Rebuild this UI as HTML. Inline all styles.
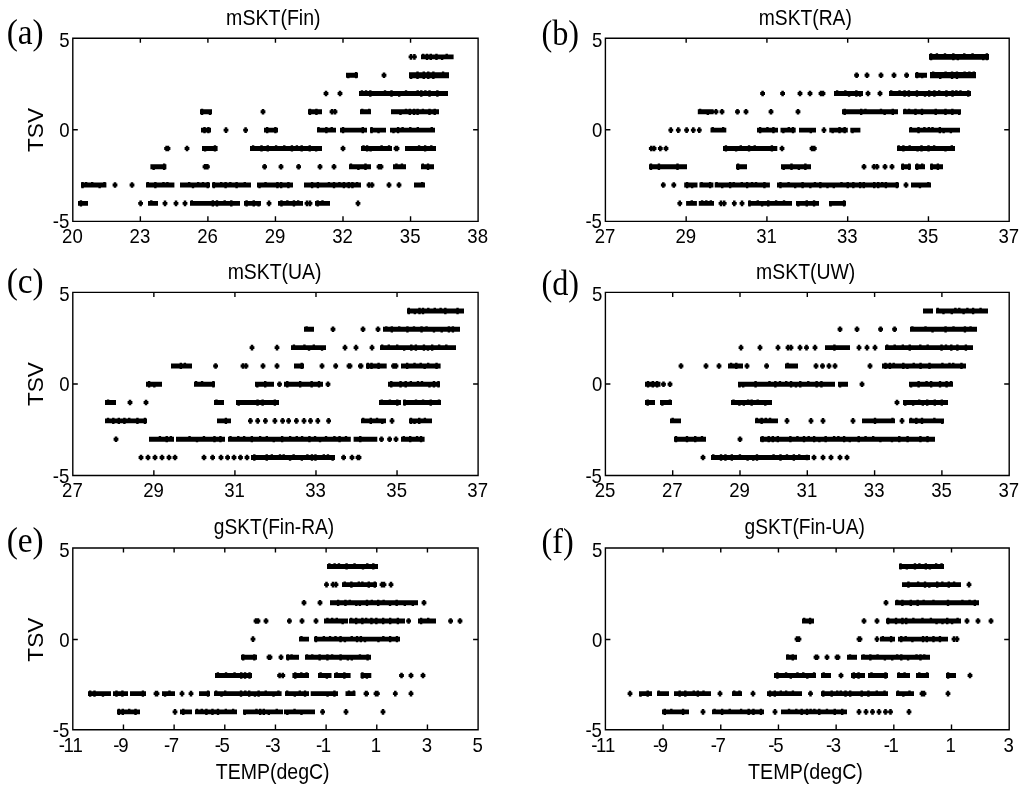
<!DOCTYPE html>
<html><head><meta charset="utf-8"><title>TSV vs skin temperature</title>
<style>
html,body{margin:0;padding:0;background:#fff;}
body{width:1024px;height:793px;overflow:hidden;}
svg{display:block;}
.tk{font-family:"Liberation Sans",Arial,sans-serif;font-size:20px;fill:#000;}
.tt,.tt2{font-family:"Liberation Sans",Arial,sans-serif;font-size:22px;fill:#000;}
.pl{font-family:"Liberation Serif","Times New Roman",serif;font-size:36px;fill:#000;}
</style></head><body>
<svg width="1024" height="793" viewBox="0 0 1024 793">
<rect width="1024" height="793" fill="#fff"/>
<path d="M409.75 54.06h2.50v1.35h1.15v2.90h-1.15v1.35h-2.50v-1.35h-1.15v-2.90h1.15zM413.15 54.06h2.50v1.35h1.15v2.90h-1.15v1.35h-2.50v-1.35h-1.15v-2.90h1.15zM421.00 54.41h32.60v4.90h-32.60zM421.95 53.71h2.4v1h-2.4zM425.81 53.71h2.4v1h-2.4zM425.81 59.02h2.4v1h-2.4zM429.60 53.71h2.4v1h-2.4zM429.60 59.02h2.4v1h-2.4zM435.27 53.71h2.4v1h-2.4zM435.27 59.02h2.4v1h-2.4zM440.89 59.02h2.4v1h-2.4zM445.51 53.71h2.4v1h-2.4zM346.00 72.73h12.00v4.90h-12.00zM347.09 77.33h2.4v1h-2.4zM354.89 72.03h2.4v1h-2.4zM354.89 77.33h2.4v1h-2.4zM382.75 72.38h2.50v1.35h1.15v2.90h-1.15v1.35h-2.50v-1.35h-1.15v-2.90h1.15zM409.00 72.18h40.00v6.00h-40.00zM409.92 77.88h2.4v1h-2.4zM416.32 71.48h2.4v1h-2.4zM416.32 77.88h2.4v1h-2.4zM422.56 71.48h2.4v1h-2.4zM422.56 77.88h2.4v1h-2.4zM427.09 71.48h2.4v1h-2.4zM427.09 77.88h2.4v1h-2.4zM432.16 71.48h2.4v1h-2.4zM432.16 77.88h2.4v1h-2.4zM441.88 71.48h2.4v1h-2.4zM324.75 90.70h2.50v1.35h1.15v2.90h-1.15v1.35h-2.50v-1.35h-1.15v-2.90h1.15zM338.75 90.70h2.50v1.35h1.15v2.90h-1.15v1.35h-2.50v-1.35h-1.15v-2.90h1.15zM359.00 91.05h89.00v4.90h-89.00zM360.76 90.34h2.4v1h-2.4zM364.85 90.34h2.4v1h-2.4zM369.11 90.34h2.4v1h-2.4zM369.11 95.65h2.4v1h-2.4zM383.83 90.34h2.4v1h-2.4zM390.30 90.34h2.4v1h-2.4zM390.30 95.65h2.4v1h-2.4zM398.00 95.65h2.4v1h-2.4zM404.82 90.34h2.4v1h-2.4zM416.48 90.34h2.4v1h-2.4zM420.09 90.34h2.4v1h-2.4zM420.09 95.65h2.4v1h-2.4zM424.18 90.34h2.4v1h-2.4zM428.32 90.34h2.4v1h-2.4zM428.32 95.65h2.4v1h-2.4zM436.18 90.34h2.4v1h-2.4zM436.18 95.65h2.4v1h-2.4zM200.00 109.36h12.00v4.90h-12.00zM200.86 108.66h2.4v1h-2.4zM200.86 113.96h2.4v1h-2.4zM208.78 113.96h2.4v1h-2.4zM261.75 109.01h2.50v1.35h1.15v2.90h-1.15v1.35h-2.50v-1.35h-1.15v-2.90h1.15zM308.00 109.36h14.00v4.90h-14.00zM308.76 108.66h2.4v1h-2.4zM308.76 113.96h2.4v1h-2.4zM315.21 108.66h2.4v1h-2.4zM315.21 113.96h2.4v1h-2.4zM330.75 109.01h2.50v1.35h1.15v2.90h-1.15v1.35h-2.50v-1.35h-1.15v-2.90h1.15zM333.75 109.01h2.50v1.35h1.15v2.90h-1.15v1.35h-2.50v-1.35h-1.15v-2.90h1.15zM360.00 109.36h11.00v4.90h-11.00zM361.04 108.66h2.4v1h-2.4zM367.99 108.66h2.4v1h-2.4zM391.00 109.36h48.00v4.90h-48.00zM399.28 113.96h2.4v1h-2.4zM404.78 108.66h2.4v1h-2.4zM408.59 108.66h2.4v1h-2.4zM408.59 113.96h2.4v1h-2.4zM412.90 108.66h2.4v1h-2.4zM412.90 113.96h2.4v1h-2.4zM416.40 108.66h2.4v1h-2.4zM416.40 113.96h2.4v1h-2.4zM421.72 108.66h2.4v1h-2.4zM428.29 108.66h2.4v1h-2.4zM428.29 113.96h2.4v1h-2.4zM433.52 108.66h2.4v1h-2.4zM433.52 113.96h2.4v1h-2.4zM201.00 127.67h10.00v4.90h-10.00zM203.29 126.97h2.4v1h-2.4zM203.29 132.27h2.4v1h-2.4zM207.22 126.97h2.4v1h-2.4zM207.22 132.27h2.4v1h-2.4zM224.75 127.33h2.50v1.35h1.15v2.90h-1.15v1.35h-2.50v-1.35h-1.15v-2.90h1.15zM244.35 127.33h2.50v1.35h1.15v2.90h-1.15v1.35h-2.50v-1.35h-1.15v-2.90h1.15zM264.00 127.67h14.00v4.90h-14.00zM265.96 126.97h2.4v1h-2.4zM265.96 132.27h2.4v1h-2.4zM274.21 126.97h2.4v1h-2.4zM274.21 132.27h2.4v1h-2.4zM317.00 127.67h19.00v4.90h-19.00zM317.35 126.97h2.4v1h-2.4zM325.17 126.97h2.4v1h-2.4zM325.17 132.27h2.4v1h-2.4zM330.50 126.97h2.4v1h-2.4zM340.00 127.67h27.00v4.90h-27.00zM341.86 126.97h2.4v1h-2.4zM341.86 132.27h2.4v1h-2.4zM361.58 126.97h2.4v1h-2.4zM361.58 132.27h2.4v1h-2.4zM370.00 127.67h16.00v4.90h-16.00zM370.36 126.97h2.4v1h-2.4zM370.36 132.27h2.4v1h-2.4zM377.32 132.27h2.4v1h-2.4zM390.00 127.67h45.00v4.90h-45.00zM392.28 132.27h2.4v1h-2.4zM396.88 126.97h2.4v1h-2.4zM396.88 132.27h2.4v1h-2.4zM401.40 126.97h2.4v1h-2.4zM409.10 126.97h2.4v1h-2.4zM416.60 126.97h2.4v1h-2.4zM430.54 126.97h2.4v1h-2.4zM165.35 145.64h2.50v1.35h1.15v2.90h-1.15v1.35h-2.50v-1.35h-1.15v-2.90h1.15zM166.75 145.64h2.50v1.35h1.15v2.90h-1.15v1.35h-2.50v-1.35h-1.15v-2.90h1.15zM185.75 145.64h2.50v1.35h1.15v2.90h-1.15v1.35h-2.50v-1.35h-1.15v-2.90h1.15zM202.00 145.99h15.60v4.90h-15.60zM203.90 150.59h2.4v1h-2.4zM213.76 145.29h2.4v1h-2.4zM213.76 150.59h2.4v1h-2.4zM250.00 145.99h72.00v4.90h-72.00zM251.91 145.29h2.4v1h-2.4zM260.31 145.29h2.4v1h-2.4zM260.31 150.59h2.4v1h-2.4zM266.56 145.29h2.4v1h-2.4zM266.56 150.59h2.4v1h-2.4zM274.91 145.29h2.4v1h-2.4zM283.08 145.29h2.4v1h-2.4zM290.71 145.29h2.4v1h-2.4zM290.71 150.59h2.4v1h-2.4zM295.68 145.29h2.4v1h-2.4zM300.47 145.29h2.4v1h-2.4zM300.47 150.59h2.4v1h-2.4zM308.52 145.29h2.4v1h-2.4zM308.52 150.59h2.4v1h-2.4zM314.94 150.59h2.4v1h-2.4zM341.75 145.64h2.50v1.35h1.15v2.90h-1.15v1.35h-2.50v-1.35h-1.15v-2.90h1.15zM361.00 145.99h31.00v4.90h-31.00zM362.30 145.29h2.4v1h-2.4zM365.90 145.29h2.4v1h-2.4zM365.90 150.59h2.4v1h-2.4zM369.42 150.59h2.4v1h-2.4zM380.41 145.29h2.4v1h-2.4zM387.84 145.29h2.4v1h-2.4zM394.75 145.64h2.50v1.35h1.15v2.90h-1.15v1.35h-2.50v-1.35h-1.15v-2.90h1.15zM395.75 145.64h2.50v1.35h1.15v2.90h-1.15v1.35h-2.50v-1.35h-1.15v-2.90h1.15zM405.00 145.99h31.00v4.90h-31.00zM417.88 145.29h2.4v1h-2.4zM423.94 145.29h2.4v1h-2.4zM423.94 150.59h2.4v1h-2.4zM430.11 145.29h2.4v1h-2.4zM150.40 164.31h16.00v4.90h-16.00zM152.45 168.90h2.4v1h-2.4zM162.94 163.61h2.4v1h-2.4zM162.94 168.90h2.4v1h-2.4zM203.75 163.95h2.50v1.35h1.15v2.90h-1.15v1.35h-2.50v-1.35h-1.15v-2.90h1.15zM206.15 163.95h2.50v1.35h1.15v2.90h-1.15v1.35h-2.50v-1.35h-1.15v-2.90h1.15zM263.35 163.95h2.50v1.35h1.15v2.90h-1.15v1.35h-2.50v-1.35h-1.15v-2.90h1.15zM279.75 163.95h2.50v1.35h1.15v2.90h-1.15v1.35h-2.50v-1.35h-1.15v-2.90h1.15zM297.35 163.95h2.50v1.35h1.15v2.90h-1.15v1.35h-2.50v-1.35h-1.15v-2.90h1.15zM318.75 163.95h2.50v1.35h1.15v2.90h-1.15v1.35h-2.50v-1.35h-1.15v-2.90h1.15zM332.75 163.95h2.50v1.35h1.15v2.90h-1.15v1.35h-2.50v-1.35h-1.15v-2.90h1.15zM349.00 164.31h22.00v4.90h-22.00zM349.78 163.61h2.4v1h-2.4zM357.20 168.90h2.4v1h-2.4zM364.28 163.61h2.4v1h-2.4zM364.28 168.90h2.4v1h-2.4zM377.75 163.95h2.50v1.35h1.15v2.90h-1.15v1.35h-2.50v-1.35h-1.15v-2.90h1.15zM379.75 163.95h2.50v1.35h1.15v2.90h-1.15v1.35h-2.50v-1.35h-1.15v-2.90h1.15zM393.00 164.31h13.00v4.90h-13.00zM395.24 163.61h2.4v1h-2.4zM400.73 163.61h2.4v1h-2.4zM421.00 164.31h13.00v4.90h-13.00zM421.62 163.61h2.4v1h-2.4zM426.82 163.61h2.4v1h-2.4zM426.82 168.90h2.4v1h-2.4zM81.00 182.62h25.40v4.90h-25.40zM81.34 181.92h2.4v1h-2.4zM81.34 187.22h2.4v1h-2.4zM84.93 181.92h2.4v1h-2.4zM90.99 181.92h2.4v1h-2.4zM98.43 187.22h2.4v1h-2.4zM103.26 181.92h2.4v1h-2.4zM113.75 182.27h2.50v1.35h1.15v2.90h-1.15v1.35h-2.50v-1.35h-1.15v-2.90h1.15zM130.75 182.27h2.50v1.35h1.15v2.90h-1.15v1.35h-2.50v-1.35h-1.15v-2.90h1.15zM146.00 182.62h28.40v4.90h-28.40zM146.56 181.92h2.4v1h-2.4zM154.15 181.92h2.4v1h-2.4zM154.15 187.22h2.4v1h-2.4zM162.25 181.92h2.4v1h-2.4zM166.20 181.92h2.4v1h-2.4zM180.00 182.62h30.00v4.90h-30.00zM187.95 181.92h2.4v1h-2.4zM191.79 187.22h2.4v1h-2.4zM196.98 181.92h2.4v1h-2.4zM201.82 181.92h2.4v1h-2.4zM206.51 181.92h2.4v1h-2.4zM206.51 187.22h2.4v1h-2.4zM212.00 182.62h39.00v4.90h-39.00zM212.70 181.92h2.4v1h-2.4zM212.70 187.22h2.4v1h-2.4zM220.00 181.92h2.4v1h-2.4zM224.39 181.92h2.4v1h-2.4zM224.39 187.22h2.4v1h-2.4zM229.14 181.92h2.4v1h-2.4zM235.40 181.92h2.4v1h-2.4zM235.40 187.22h2.4v1h-2.4zM243.57 181.92h2.4v1h-2.4zM257.00 182.62h36.00v4.90h-36.00zM258.29 187.22h2.4v1h-2.4zM264.32 181.92h2.4v1h-2.4zM276.22 181.92h2.4v1h-2.4zM276.22 187.22h2.4v1h-2.4zM279.99 181.92h2.4v1h-2.4zM279.99 187.22h2.4v1h-2.4zM287.19 181.92h2.4v1h-2.4zM287.19 187.22h2.4v1h-2.4zM304.00 182.62h57.00v4.90h-57.00zM310.89 181.92h2.4v1h-2.4zM310.89 187.22h2.4v1h-2.4zM316.69 181.92h2.4v1h-2.4zM316.69 187.22h2.4v1h-2.4zM327.74 181.92h2.4v1h-2.4zM332.79 181.92h2.4v1h-2.4zM332.79 187.22h2.4v1h-2.4zM338.20 181.92h2.4v1h-2.4zM342.70 181.92h2.4v1h-2.4zM342.70 187.22h2.4v1h-2.4zM347.52 181.92h2.4v1h-2.4zM347.52 187.22h2.4v1h-2.4zM351.23 181.92h2.4v1h-2.4zM351.23 187.22h2.4v1h-2.4zM355.90 181.92h2.4v1h-2.4zM367.75 182.27h2.50v1.35h1.15v2.90h-1.15v1.35h-2.50v-1.35h-1.15v-2.90h1.15zM370.75 182.27h2.50v1.35h1.15v2.90h-1.15v1.35h-2.50v-1.35h-1.15v-2.90h1.15zM387.75 182.27h2.50v1.35h1.15v2.90h-1.15v1.35h-2.50v-1.35h-1.15v-2.90h1.15zM397.75 182.27h2.50v1.35h1.15v2.90h-1.15v1.35h-2.50v-1.35h-1.15v-2.90h1.15zM414.00 182.62h11.00v4.90h-11.00zM421.06 181.92h2.4v1h-2.4zM78.00 200.94h10.00v4.90h-10.00zM79.75 200.24h2.4v1h-2.4zM79.75 205.53h2.4v1h-2.4zM139.35 200.59h2.50v1.35h1.15v2.90h-1.15v1.35h-2.50v-1.35h-1.15v-2.90h1.15zM148.00 200.94h10.00v4.90h-10.00zM150.08 200.24h2.4v1h-2.4zM163.75 200.59h2.50v1.35h1.15v2.90h-1.15v1.35h-2.50v-1.35h-1.15v-2.90h1.15zM174.75 200.59h2.50v1.35h1.15v2.90h-1.15v1.35h-2.50v-1.35h-1.15v-2.90h1.15zM183.75 200.59h2.50v1.35h1.15v2.90h-1.15v1.35h-2.50v-1.35h-1.15v-2.90h1.15zM190.00 200.94h50.00v4.90h-50.00zM190.58 200.24h2.4v1h-2.4zM211.64 200.24h2.4v1h-2.4zM211.64 205.53h2.4v1h-2.4zM215.81 200.24h2.4v1h-2.4zM215.81 205.53h2.4v1h-2.4zM223.48 200.24h2.4v1h-2.4zM230.12 200.24h2.4v1h-2.4zM230.12 205.53h2.4v1h-2.4zM244.00 200.94h17.00v4.90h-17.00zM245.37 200.24h2.4v1h-2.4zM245.37 205.53h2.4v1h-2.4zM252.55 200.24h2.4v1h-2.4zM252.55 205.53h2.4v1h-2.4zM257.38 205.53h2.4v1h-2.4zM267.75 200.59h2.50v1.35h1.15v2.90h-1.15v1.35h-2.50v-1.35h-1.15v-2.90h1.15zM278.00 200.94h25.00v4.90h-25.00zM280.25 200.24h2.4v1h-2.4zM280.25 205.53h2.4v1h-2.4zM286.15 200.24h2.4v1h-2.4zM292.73 200.24h2.4v1h-2.4zM292.73 205.53h2.4v1h-2.4zM296.97 200.24h2.4v1h-2.4zM305.75 200.59h2.50v1.35h1.15v2.90h-1.15v1.35h-2.50v-1.35h-1.15v-2.90h1.15zM308.75 200.59h2.50v1.35h1.15v2.90h-1.15v1.35h-2.50v-1.35h-1.15v-2.90h1.15zM315.00 200.94h15.00v4.90h-15.00zM316.44 200.24h2.4v1h-2.4zM316.44 205.53h2.4v1h-2.4zM321.28 200.24h2.4v1h-2.4zM356.75 200.59h2.50v1.35h1.15v2.90h-1.15v1.35h-2.50v-1.35h-1.15v-2.90h1.15zM929.00 54.06h60.00v5.60h-60.00zM929.88 53.36h2.4v1h-2.4zM929.88 59.36h2.4v1h-2.4zM935.71 53.36h2.4v1h-2.4zM943.80 53.36h2.4v1h-2.4zM952.14 53.36h2.4v1h-2.4zM952.14 59.36h2.4v1h-2.4zM956.69 59.36h2.4v1h-2.4zM963.09 53.36h2.4v1h-2.4zM971.36 53.36h2.4v1h-2.4zM982.06 59.36h2.4v1h-2.4zM985.68 53.36h2.4v1h-2.4zM985.68 59.36h2.4v1h-2.4zM855.35 72.38h2.50v1.35h1.15v2.90h-1.15v1.35h-2.50v-1.35h-1.15v-2.90h1.15zM865.75 72.38h2.50v1.35h1.15v2.90h-1.15v1.35h-2.50v-1.35h-1.15v-2.90h1.15zM879.75 72.38h2.50v1.35h1.15v2.90h-1.15v1.35h-2.50v-1.35h-1.15v-2.90h1.15zM892.75 72.38h2.50v1.35h1.15v2.90h-1.15v1.35h-2.50v-1.35h-1.15v-2.90h1.15zM905.35 72.38h2.50v1.35h1.15v2.90h-1.15v1.35h-2.50v-1.35h-1.15v-2.90h1.15zM915.00 72.73h12.00v4.90h-12.00zM915.90 72.03h2.4v1h-2.4zM915.90 77.33h2.4v1h-2.4zM920.98 77.33h2.4v1h-2.4zM930.00 72.08h46.00v6.20h-46.00zM931.98 71.38h2.4v1h-2.4zM939.04 77.98h2.4v1h-2.4zM944.40 71.38h2.4v1h-2.4zM950.85 71.38h2.4v1h-2.4zM950.85 77.98h2.4v1h-2.4zM955.73 71.38h2.4v1h-2.4zM955.73 77.98h2.4v1h-2.4zM963.40 71.38h2.4v1h-2.4zM968.15 71.38h2.4v1h-2.4zM972.60 71.38h2.4v1h-2.4zM761.35 90.70h2.50v1.35h1.15v2.90h-1.15v1.35h-2.50v-1.35h-1.15v-2.90h1.15zM781.35 90.70h2.50v1.35h1.15v2.90h-1.15v1.35h-2.50v-1.35h-1.15v-2.90h1.15zM798.75 90.70h2.50v1.35h1.15v2.90h-1.15v1.35h-2.50v-1.35h-1.15v-2.90h1.15zM808.75 90.70h2.50v1.35h1.15v2.90h-1.15v1.35h-2.50v-1.35h-1.15v-2.90h1.15zM819.75 90.70h2.50v1.35h1.15v2.90h-1.15v1.35h-2.50v-1.35h-1.15v-2.90h1.15zM821.75 90.70h2.50v1.35h1.15v2.90h-1.15v1.35h-2.50v-1.35h-1.15v-2.90h1.15zM834.00 91.05h29.00v4.90h-29.00zM835.92 90.34h2.4v1h-2.4zM844.13 90.34h2.4v1h-2.4zM847.87 95.65h2.4v1h-2.4zM855.14 90.34h2.4v1h-2.4zM855.14 95.65h2.4v1h-2.4zM858.88 95.65h2.4v1h-2.4zM866.75 90.70h2.50v1.35h1.15v2.90h-1.15v1.35h-2.50v-1.35h-1.15v-2.90h1.15zM878.75 90.70h2.50v1.35h1.15v2.90h-1.15v1.35h-2.50v-1.35h-1.15v-2.90h1.15zM889.00 91.05h82.00v4.90h-82.00zM889.99 90.34h2.4v1h-2.4zM898.37 90.34h2.4v1h-2.4zM903.37 90.34h2.4v1h-2.4zM903.37 95.65h2.4v1h-2.4zM907.71 90.34h2.4v1h-2.4zM907.71 95.65h2.4v1h-2.4zM915.74 90.34h2.4v1h-2.4zM915.74 95.65h2.4v1h-2.4zM923.77 95.65h2.4v1h-2.4zM927.97 90.34h2.4v1h-2.4zM927.97 95.65h2.4v1h-2.4zM933.18 90.34h2.4v1h-2.4zM933.18 95.65h2.4v1h-2.4zM937.97 90.34h2.4v1h-2.4zM945.22 90.34h2.4v1h-2.4zM945.22 95.65h2.4v1h-2.4zM951.34 90.34h2.4v1h-2.4zM951.34 95.65h2.4v1h-2.4zM955.15 90.34h2.4v1h-2.4zM959.28 90.34h2.4v1h-2.4zM967.09 90.34h2.4v1h-2.4zM967.09 95.65h2.4v1h-2.4zM697.80 109.36h15.80v4.90h-15.80zM698.90 108.66h2.4v1h-2.4zM706.64 113.96h2.4v1h-2.4zM714.75 109.01h2.50v1.35h1.15v2.90h-1.15v1.35h-2.50v-1.35h-1.15v-2.90h1.15zM720.75 109.01h2.50v1.35h1.15v2.90h-1.15v1.35h-2.50v-1.35h-1.15v-2.90h1.15zM736.25 109.01h2.50v1.35h1.15v2.90h-1.15v1.35h-2.50v-1.35h-1.15v-2.90h1.15zM744.75 109.01h2.50v1.35h1.15v2.90h-1.15v1.35h-2.50v-1.35h-1.15v-2.90h1.15zM769.75 109.01h2.50v1.35h1.15v2.90h-1.15v1.35h-2.50v-1.35h-1.15v-2.90h1.15zM796.75 109.01h2.50v1.35h1.15v2.90h-1.15v1.35h-2.50v-1.35h-1.15v-2.90h1.15zM842.00 109.36h56.00v4.90h-56.00zM843.47 108.66h2.4v1h-2.4zM843.47 113.96h2.4v1h-2.4zM859.97 108.66h2.4v1h-2.4zM859.97 113.96h2.4v1h-2.4zM864.24 108.66h2.4v1h-2.4zM879.77 108.66h2.4v1h-2.4zM883.47 113.96h2.4v1h-2.4zM891.57 108.66h2.4v1h-2.4zM891.57 113.96h2.4v1h-2.4zM903.00 109.36h58.00v4.90h-58.00zM903.80 108.66h2.4v1h-2.4zM907.86 108.66h2.4v1h-2.4zM914.28 108.66h2.4v1h-2.4zM914.28 113.96h2.4v1h-2.4zM920.78 108.66h2.4v1h-2.4zM920.78 113.96h2.4v1h-2.4zM934.51 108.66h2.4v1h-2.4zM934.51 113.96h2.4v1h-2.4zM944.28 108.66h2.4v1h-2.4zM944.28 113.96h2.4v1h-2.4zM951.15 108.66h2.4v1h-2.4zM951.15 113.96h2.4v1h-2.4zM957.99 113.96h2.4v1h-2.4zM669.55 127.33h2.50v1.35h1.15v2.90h-1.15v1.35h-2.50v-1.35h-1.15v-2.90h1.15zM677.05 127.33h2.50v1.35h1.15v2.90h-1.15v1.35h-2.50v-1.35h-1.15v-2.90h1.15zM685.35 127.33h2.50v1.35h1.15v2.90h-1.15v1.35h-2.50v-1.35h-1.15v-2.90h1.15zM692.05 127.33h2.50v1.35h1.15v2.90h-1.15v1.35h-2.50v-1.35h-1.15v-2.90h1.15zM698.05 127.33h2.50v1.35h1.15v2.90h-1.15v1.35h-2.50v-1.35h-1.15v-2.90h1.15zM710.50 127.67h15.80v4.90h-15.80zM711.48 126.97h2.4v1h-2.4zM721.99 126.97h2.4v1h-2.4zM757.00 127.67h21.00v4.90h-21.00zM758.94 126.97h2.4v1h-2.4zM758.94 132.27h2.4v1h-2.4zM766.24 126.97h2.4v1h-2.4zM772.22 126.97h2.4v1h-2.4zM772.22 132.27h2.4v1h-2.4zM780.50 127.67h15.20v4.90h-15.20zM782.13 132.27h2.4v1h-2.4zM787.60 126.97h2.4v1h-2.4zM791.81 126.97h2.4v1h-2.4zM791.81 132.27h2.4v1h-2.4zM799.00 127.67h17.00v4.90h-17.00zM809.58 132.27h2.4v1h-2.4zM822.70 127.33h2.50v1.35h1.15v2.90h-1.15v1.35h-2.50v-1.35h-1.15v-2.90h1.15zM829.30 127.67h18.50v4.90h-18.50zM831.47 132.27h2.4v1h-2.4zM838.29 126.97h2.4v1h-2.4zM838.29 132.27h2.4v1h-2.4zM843.45 126.97h2.4v1h-2.4zM843.45 132.27h2.4v1h-2.4zM850.30 127.67h10.10v4.90h-10.10zM851.30 132.27h2.4v1h-2.4zM909.00 127.67h51.00v4.90h-51.00zM909.71 126.97h2.4v1h-2.4zM917.32 126.97h2.4v1h-2.4zM917.32 132.27h2.4v1h-2.4zM923.19 126.97h2.4v1h-2.4zM927.66 126.97h2.4v1h-2.4zM931.31 126.97h2.4v1h-2.4zM938.64 126.97h2.4v1h-2.4zM938.64 132.27h2.4v1h-2.4zM942.45 132.27h2.4v1h-2.4zM949.69 132.27h2.4v1h-2.4zM650.05 145.64h2.50v1.35h1.15v2.90h-1.15v1.35h-2.50v-1.35h-1.15v-2.90h1.15zM652.85 145.64h2.50v1.35h1.15v2.90h-1.15v1.35h-2.50v-1.35h-1.15v-2.90h1.15zM659.05 145.64h2.50v1.35h1.15v2.90h-1.15v1.35h-2.50v-1.35h-1.15v-2.90h1.15zM664.75 145.64h2.50v1.35h1.15v2.90h-1.15v1.35h-2.50v-1.35h-1.15v-2.90h1.15zM723.00 145.99h54.30v4.90h-54.30zM724.73 145.29h2.4v1h-2.4zM724.73 150.59h2.4v1h-2.4zM734.92 150.59h2.4v1h-2.4zM739.59 145.29h2.4v1h-2.4zM747.86 145.29h2.4v1h-2.4zM747.86 150.59h2.4v1h-2.4zM753.51 145.29h2.4v1h-2.4zM770.68 145.29h2.4v1h-2.4zM770.68 150.59h2.4v1h-2.4zM780.75 145.64h2.50v1.35h1.15v2.90h-1.15v1.35h-2.50v-1.35h-1.15v-2.90h1.15zM810.75 145.64h2.50v1.35h1.15v2.90h-1.15v1.35h-2.50v-1.35h-1.15v-2.90h1.15zM813.05 145.64h2.50v1.35h1.15v2.90h-1.15v1.35h-2.50v-1.35h-1.15v-2.90h1.15zM897.00 145.99h58.00v4.90h-58.00zM897.46 145.29h2.4v1h-2.4zM902.19 145.29h2.4v1h-2.4zM902.19 150.59h2.4v1h-2.4zM908.46 145.29h2.4v1h-2.4zM916.37 150.59h2.4v1h-2.4zM920.30 145.29h2.4v1h-2.4zM920.30 150.59h2.4v1h-2.4zM927.34 145.29h2.4v1h-2.4zM927.34 150.59h2.4v1h-2.4zM932.93 145.29h2.4v1h-2.4zM944.27 150.59h2.4v1h-2.4zM950.61 145.29h2.4v1h-2.4zM649.00 164.31h38.00v4.90h-38.00zM649.79 163.61h2.4v1h-2.4zM649.79 168.90h2.4v1h-2.4zM657.72 163.61h2.4v1h-2.4zM657.72 168.90h2.4v1h-2.4zM676.31 163.61h2.4v1h-2.4zM676.31 168.90h2.4v1h-2.4zM736.00 164.31h11.00v4.90h-11.00zM736.89 163.61h2.4v1h-2.4zM736.89 168.90h2.4v1h-2.4zM781.00 164.31h30.00v4.90h-30.00zM782.47 168.90h2.4v1h-2.4zM790.30 163.61h2.4v1h-2.4zM790.30 168.90h2.4v1h-2.4zM797.69 168.90h2.4v1h-2.4zM804.17 163.61h2.4v1h-2.4zM804.17 168.90h2.4v1h-2.4zM862.75 163.95h2.50v1.35h1.15v2.90h-1.15v1.35h-2.50v-1.35h-1.15v-2.90h1.15zM872.75 163.95h2.50v1.35h1.15v2.90h-1.15v1.35h-2.50v-1.35h-1.15v-2.90h1.15zM875.75 163.95h2.50v1.35h1.15v2.90h-1.15v1.35h-2.50v-1.35h-1.15v-2.90h1.15zM883.75 163.95h2.50v1.35h1.15v2.90h-1.15v1.35h-2.50v-1.35h-1.15v-2.90h1.15zM890.75 163.95h2.50v1.35h1.15v2.90h-1.15v1.35h-2.50v-1.35h-1.15v-2.90h1.15zM901.00 164.31h10.00v4.90h-10.00zM901.58 163.61h2.4v1h-2.4zM901.58 168.90h2.4v1h-2.4zM908.08 163.61h2.4v1h-2.4zM908.08 168.90h2.4v1h-2.4zM915.00 164.31h10.00v4.90h-10.00zM915.95 163.61h2.4v1h-2.4zM915.95 168.90h2.4v1h-2.4zM921.02 163.61h2.4v1h-2.4zM930.00 164.31h13.00v4.90h-13.00zM930.43 163.61h2.4v1h-2.4zM930.43 168.90h2.4v1h-2.4zM936.68 163.61h2.4v1h-2.4zM936.68 168.90h2.4v1h-2.4zM662.05 182.27h2.50v1.35h1.15v2.90h-1.15v1.35h-2.50v-1.35h-1.15v-2.90h1.15zM672.55 182.27h2.50v1.35h1.15v2.90h-1.15v1.35h-2.50v-1.35h-1.15v-2.90h1.15zM684.20 182.62h13.30v4.90h-13.30zM685.89 181.92h2.4v1h-2.4zM685.89 187.22h2.4v1h-2.4zM690.93 187.22h2.4v1h-2.4zM699.40 182.62h14.00v4.90h-14.00zM700.41 181.92h2.4v1h-2.4zM708.90 181.92h2.4v1h-2.4zM708.90 187.22h2.4v1h-2.4zM714.70 182.62h55.20v4.90h-55.20zM715.41 181.92h2.4v1h-2.4zM721.03 187.22h2.4v1h-2.4zM728.94 181.92h2.4v1h-2.4zM728.94 187.22h2.4v1h-2.4zM732.51 181.92h2.4v1h-2.4zM740.56 181.92h2.4v1h-2.4zM745.92 181.92h2.4v1h-2.4zM745.92 187.22h2.4v1h-2.4zM750.83 181.92h2.4v1h-2.4zM754.88 181.92h2.4v1h-2.4zM763.21 181.92h2.4v1h-2.4zM763.21 187.22h2.4v1h-2.4zM777.00 182.62h122.00v4.90h-122.00zM779.25 181.92h2.4v1h-2.4zM779.25 187.22h2.4v1h-2.4zM787.38 181.92h2.4v1h-2.4zM793.98 187.22h2.4v1h-2.4zM801.41 181.92h2.4v1h-2.4zM801.41 187.22h2.4v1h-2.4zM809.14 187.22h2.4v1h-2.4zM813.74 181.92h2.4v1h-2.4zM819.15 181.92h2.4v1h-2.4zM819.15 187.22h2.4v1h-2.4zM826.28 187.22h2.4v1h-2.4zM832.59 187.22h2.4v1h-2.4zM840.28 181.92h2.4v1h-2.4zM846.53 181.92h2.4v1h-2.4zM846.53 187.22h2.4v1h-2.4zM852.13 181.92h2.4v1h-2.4zM852.13 187.22h2.4v1h-2.4zM858.93 181.92h2.4v1h-2.4zM858.93 187.22h2.4v1h-2.4zM862.54 181.92h2.4v1h-2.4zM862.54 187.22h2.4v1h-2.4zM873.01 181.92h2.4v1h-2.4zM873.01 187.22h2.4v1h-2.4zM877.05 181.92h2.4v1h-2.4zM877.05 187.22h2.4v1h-2.4zM881.00 181.92h2.4v1h-2.4zM884.71 181.92h2.4v1h-2.4zM884.71 187.22h2.4v1h-2.4zM895.65 181.92h2.4v1h-2.4zM895.65 187.22h2.4v1h-2.4zM904.75 182.27h2.50v1.35h1.15v2.90h-1.15v1.35h-2.50v-1.35h-1.15v-2.90h1.15zM911.00 182.62h20.00v4.90h-20.00zM918.73 187.22h2.4v1h-2.4zM927.14 181.92h2.4v1h-2.4zM678.55 200.59h2.50v1.35h1.15v2.90h-1.15v1.35h-2.50v-1.35h-1.15v-2.90h1.15zM686.10 200.94h10.80v4.90h-10.80zM690.56 200.24h2.4v1h-2.4zM698.80 200.94h15.20v4.90h-15.20zM700.89 200.24h2.4v1h-2.4zM705.11 200.24h2.4v1h-2.4zM709.65 200.24h2.4v1h-2.4zM719.75 200.59h2.50v1.35h1.15v2.90h-1.15v1.35h-2.50v-1.35h-1.15v-2.90h1.15zM722.95 200.59h2.50v1.35h1.15v2.90h-1.15v1.35h-2.50v-1.35h-1.15v-2.90h1.15zM733.05 200.59h2.50v1.35h1.15v2.90h-1.15v1.35h-2.50v-1.35h-1.15v-2.90h1.15zM740.75 200.59h2.50v1.35h1.15v2.90h-1.15v1.35h-2.50v-1.35h-1.15v-2.90h1.15zM748.00 200.94h44.00v4.90h-44.00zM748.37 200.24h2.4v1h-2.4zM748.37 205.53h2.4v1h-2.4zM756.56 200.24h2.4v1h-2.4zM760.90 205.53h2.4v1h-2.4zM767.05 200.24h2.4v1h-2.4zM767.05 205.53h2.4v1h-2.4zM774.92 200.24h2.4v1h-2.4zM782.83 200.24h2.4v1h-2.4zM796.00 200.94h23.00v4.90h-23.00zM797.09 205.53h2.4v1h-2.4zM805.54 200.24h2.4v1h-2.4zM805.54 205.53h2.4v1h-2.4zM812.86 200.24h2.4v1h-2.4zM812.86 205.53h2.4v1h-2.4zM829.00 200.94h17.00v4.90h-17.00zM829.40 205.53h2.4v1h-2.4zM842.91 200.24h2.4v1h-2.4zM842.91 205.53h2.4v1h-2.4zM407.00 308.56h57.00v4.90h-57.00zM407.60 307.86h2.4v1h-2.4zM407.60 313.16h2.4v1h-2.4zM413.66 313.16h2.4v1h-2.4zM418.30 307.86h2.4v1h-2.4zM418.30 313.16h2.4v1h-2.4zM421.81 307.86h2.4v1h-2.4zM421.81 313.16h2.4v1h-2.4zM427.10 307.86h2.4v1h-2.4zM433.54 307.86h2.4v1h-2.4zM439.42 307.86h2.4v1h-2.4zM444.14 307.86h2.4v1h-2.4zM444.14 313.16h2.4v1h-2.4zM456.34 307.86h2.4v1h-2.4zM456.34 313.16h2.4v1h-2.4zM304.00 326.87h10.00v4.90h-10.00zM305.42 326.17h2.4v1h-2.4zM331.75 326.52h2.50v1.35h1.15v2.90h-1.15v1.35h-2.50v-1.35h-1.15v-2.90h1.15zM361.75 326.52h2.50v1.35h1.15v2.90h-1.15v1.35h-2.50v-1.35h-1.15v-2.90h1.15zM376.75 326.52h2.50v1.35h1.15v2.90h-1.15v1.35h-2.50v-1.35h-1.15v-2.90h1.15zM383.00 326.87h77.00v4.90h-77.00zM385.11 326.17h2.4v1h-2.4zM390.64 326.17h2.4v1h-2.4zM390.64 331.47h2.4v1h-2.4zM398.03 326.17h2.4v1h-2.4zM406.24 326.17h2.4v1h-2.4zM406.24 331.47h2.4v1h-2.4zM412.78 326.17h2.4v1h-2.4zM420.34 326.17h2.4v1h-2.4zM420.34 331.47h2.4v1h-2.4zM425.34 326.17h2.4v1h-2.4zM432.76 331.47h2.4v1h-2.4zM440.48 331.47h2.4v1h-2.4zM447.69 326.17h2.4v1h-2.4zM447.69 331.47h2.4v1h-2.4zM451.72 326.17h2.4v1h-2.4zM451.72 331.47h2.4v1h-2.4zM250.75 344.83h2.50v1.35h1.15v2.90h-1.15v1.35h-2.50v-1.35h-1.15v-2.90h1.15zM275.75 344.83h2.50v1.35h1.15v2.90h-1.15v1.35h-2.50v-1.35h-1.15v-2.90h1.15zM291.00 345.18h35.00v4.90h-35.00zM292.72 344.48h2.4v1h-2.4zM303.23 344.48h2.4v1h-2.4zM307.82 349.78h2.4v1h-2.4zM312.62 344.48h2.4v1h-2.4zM320.84 349.78h2.4v1h-2.4zM343.75 344.83h2.50v1.35h1.15v2.90h-1.15v1.35h-2.50v-1.35h-1.15v-2.90h1.15zM354.75 344.83h2.50v1.35h1.15v2.90h-1.15v1.35h-2.50v-1.35h-1.15v-2.90h1.15zM370.75 344.83h2.50v1.35h1.15v2.90h-1.15v1.35h-2.50v-1.35h-1.15v-2.90h1.15zM380.00 345.18h76.00v4.90h-76.00zM380.96 344.48h2.4v1h-2.4zM387.61 344.48h2.4v1h-2.4zM396.01 344.48h2.4v1h-2.4zM402.99 349.78h2.4v1h-2.4zM410.12 344.48h2.4v1h-2.4zM410.12 349.78h2.4v1h-2.4zM414.68 344.48h2.4v1h-2.4zM414.68 349.78h2.4v1h-2.4zM422.73 344.48h2.4v1h-2.4zM422.73 349.78h2.4v1h-2.4zM426.76 349.78h2.4v1h-2.4zM430.97 344.48h2.4v1h-2.4zM430.97 349.78h2.4v1h-2.4zM437.94 344.48h2.4v1h-2.4zM445.12 344.48h2.4v1h-2.4zM171.00 363.49h21.00v4.90h-21.00zM179.65 362.79h2.4v1h-2.4zM179.65 368.09h2.4v1h-2.4zM183.71 362.79h2.4v1h-2.4zM214.35 363.14h2.50v1.35h1.15v2.90h-1.15v1.35h-2.50v-1.35h-1.15v-2.90h1.15zM241.75 363.14h2.50v1.35h1.15v2.90h-1.15v1.35h-2.50v-1.35h-1.15v-2.90h1.15zM244.75 363.14h2.50v1.35h1.15v2.90h-1.15v1.35h-2.50v-1.35h-1.15v-2.90h1.15zM261.75 363.14h2.50v1.35h1.15v2.90h-1.15v1.35h-2.50v-1.35h-1.15v-2.90h1.15zM275.75 363.14h2.50v1.35h1.15v2.90h-1.15v1.35h-2.50v-1.35h-1.15v-2.90h1.15zM294.00 363.49h10.00v4.90h-10.00zM300.51 362.79h2.4v1h-2.4zM300.51 368.09h2.4v1h-2.4zM320.75 363.14h2.50v1.35h1.15v2.90h-1.15v1.35h-2.50v-1.35h-1.15v-2.90h1.15zM334.45 363.14h2.50v1.35h1.15v2.90h-1.15v1.35h-2.50v-1.35h-1.15v-2.90h1.15zM347.75 363.14h2.50v1.35h1.15v2.90h-1.15v1.35h-2.50v-1.35h-1.15v-2.90h1.15zM348.75 363.14h2.50v1.35h1.15v2.90h-1.15v1.35h-2.50v-1.35h-1.15v-2.90h1.15zM359.15 363.14h2.50v1.35h1.15v2.90h-1.15v1.35h-2.50v-1.35h-1.15v-2.90h1.15zM359.75 363.14h2.50v1.35h1.15v2.90h-1.15v1.35h-2.50v-1.35h-1.15v-2.90h1.15zM366.00 363.49h20.70v4.90h-20.70zM366.71 362.79h2.4v1h-2.4zM366.71 368.09h2.4v1h-2.4zM370.31 362.79h2.4v1h-2.4zM370.31 368.09h2.4v1h-2.4zM377.39 362.79h2.4v1h-2.4zM377.39 368.09h2.4v1h-2.4zM392.25 363.14h2.50v1.35h1.15v2.90h-1.15v1.35h-2.50v-1.35h-1.15v-2.90h1.15zM394.75 363.14h2.50v1.35h1.15v2.90h-1.15v1.35h-2.50v-1.35h-1.15v-2.90h1.15zM401.00 363.49h39.60v4.90h-39.60zM405.96 362.79h2.4v1h-2.4zM405.96 368.09h2.4v1h-2.4zM413.33 362.79h2.4v1h-2.4zM419.52 362.79h2.4v1h-2.4zM423.47 368.09h2.4v1h-2.4zM426.98 362.79h2.4v1h-2.4zM435.37 362.79h2.4v1h-2.4zM435.37 368.09h2.4v1h-2.4zM146.00 381.80h16.00v4.90h-16.00zM147.89 381.10h2.4v1h-2.4zM147.89 386.40h2.4v1h-2.4zM153.13 386.40h2.4v1h-2.4zM194.00 381.80h21.00v4.90h-21.00zM194.87 381.10h2.4v1h-2.4zM200.86 381.10h2.4v1h-2.4zM212.20 381.10h2.4v1h-2.4zM212.20 386.40h2.4v1h-2.4zM255.00 381.80h19.00v4.90h-19.00zM256.09 386.40h2.4v1h-2.4zM264.03 381.10h2.4v1h-2.4zM264.03 386.40h2.4v1h-2.4zM278.25 381.45h2.50v1.35h1.15v2.90h-1.15v1.35h-2.50v-1.35h-1.15v-2.90h1.15zM284.00 381.80h39.00v4.90h-39.00zM286.07 381.10h2.4v1h-2.4zM286.07 386.40h2.4v1h-2.4zM298.96 381.10h2.4v1h-2.4zM298.96 386.40h2.4v1h-2.4zM310.44 381.10h2.4v1h-2.4zM310.44 386.40h2.4v1h-2.4zM317.81 381.10h2.4v1h-2.4zM317.81 386.40h2.4v1h-2.4zM326.75 381.45h2.50v1.35h1.15v2.90h-1.15v1.35h-2.50v-1.35h-1.15v-2.90h1.15zM388.00 381.80h52.00v4.90h-52.00zM390.07 381.10h2.4v1h-2.4zM390.07 386.40h2.4v1h-2.4zM399.35 381.10h2.4v1h-2.4zM399.35 386.40h2.4v1h-2.4zM404.48 381.10h2.4v1h-2.4zM404.48 386.40h2.4v1h-2.4zM409.62 381.10h2.4v1h-2.4zM416.77 381.10h2.4v1h-2.4zM420.78 381.10h2.4v1h-2.4zM428.25 386.40h2.4v1h-2.4zM432.73 381.10h2.4v1h-2.4zM432.73 386.40h2.4v1h-2.4zM437.26 381.10h2.4v1h-2.4zM437.26 386.40h2.4v1h-2.4zM105.00 400.11h11.00v4.90h-11.00zM106.88 399.41h2.4v1h-2.4zM128.75 399.76h2.50v1.35h1.15v2.90h-1.15v1.35h-2.50v-1.35h-1.15v-2.90h1.15zM144.75 399.76h2.50v1.35h1.15v2.90h-1.15v1.35h-2.50v-1.35h-1.15v-2.90h1.15zM214.00 400.11h10.00v4.90h-10.00zM215.23 399.41h2.4v1h-2.4zM236.00 400.11h43.00v4.90h-43.00zM237.45 404.71h2.4v1h-2.4zM256.36 399.41h2.4v1h-2.4zM256.36 404.71h2.4v1h-2.4zM261.42 399.41h2.4v1h-2.4zM261.42 404.71h2.4v1h-2.4zM273.67 399.41h2.4v1h-2.4zM273.67 404.71h2.4v1h-2.4zM379.00 400.11h22.00v4.90h-22.00zM380.54 399.41h2.4v1h-2.4zM388.69 399.41h2.4v1h-2.4zM396.09 399.41h2.4v1h-2.4zM396.09 404.71h2.4v1h-2.4zM403.00 400.11h38.00v4.90h-38.00zM403.38 399.41h2.4v1h-2.4zM403.38 404.71h2.4v1h-2.4zM414.79 399.41h2.4v1h-2.4zM421.88 399.41h2.4v1h-2.4zM429.52 399.41h2.4v1h-2.4zM429.52 404.71h2.4v1h-2.4zM437.76 399.41h2.4v1h-2.4zM105.00 418.42h42.00v4.90h-42.00zM106.83 417.72h2.4v1h-2.4zM112.10 417.72h2.4v1h-2.4zM112.10 423.02h2.4v1h-2.4zM117.60 417.72h2.4v1h-2.4zM117.60 423.02h2.4v1h-2.4zM123.20 417.72h2.4v1h-2.4zM123.20 423.02h2.4v1h-2.4zM128.03 417.72h2.4v1h-2.4zM136.23 417.72h2.4v1h-2.4zM136.23 423.02h2.4v1h-2.4zM143.74 417.72h2.4v1h-2.4zM143.74 423.02h2.4v1h-2.4zM217.00 418.42h14.00v4.90h-14.00zM224.70 417.72h2.4v1h-2.4zM224.70 423.02h2.4v1h-2.4zM249.15 418.07h2.50v1.35h1.15v2.90h-1.15v1.35h-2.50v-1.35h-1.15v-2.90h1.15zM256.45 418.07h2.50v1.35h1.15v2.90h-1.15v1.35h-2.50v-1.35h-1.15v-2.90h1.15zM264.15 418.07h2.50v1.35h1.15v2.90h-1.15v1.35h-2.50v-1.35h-1.15v-2.90h1.15zM273.65 418.07h2.50v1.35h1.15v2.90h-1.15v1.35h-2.50v-1.35h-1.15v-2.90h1.15zM281.35 418.07h2.50v1.35h1.15v2.90h-1.15v1.35h-2.50v-1.35h-1.15v-2.90h1.15zM287.35 418.07h2.50v1.35h1.15v2.90h-1.15v1.35h-2.50v-1.35h-1.15v-2.90h1.15zM295.15 418.07h2.50v1.35h1.15v2.90h-1.15v1.35h-2.50v-1.35h-1.15v-2.90h1.15zM302.75 418.07h2.50v1.35h1.15v2.90h-1.15v1.35h-2.50v-1.35h-1.15v-2.90h1.15zM309.25 418.07h2.50v1.35h1.15v2.90h-1.15v1.35h-2.50v-1.35h-1.15v-2.90h1.15zM316.55 418.07h2.50v1.35h1.15v2.90h-1.15v1.35h-2.50v-1.35h-1.15v-2.90h1.15zM327.35 418.07h2.50v1.35h1.15v2.90h-1.15v1.35h-2.50v-1.35h-1.15v-2.90h1.15zM361.00 418.42h25.00v4.90h-25.00zM362.01 417.72h2.4v1h-2.4zM369.59 417.72h2.4v1h-2.4zM369.59 423.02h2.4v1h-2.4zM375.83 417.72h2.4v1h-2.4zM381.10 423.02h2.4v1h-2.4zM390.75 418.07h2.50v1.35h1.15v2.90h-1.15v1.35h-2.50v-1.35h-1.15v-2.90h1.15zM409.00 418.42h23.00v4.90h-23.00zM409.81 417.72h2.4v1h-2.4zM409.81 423.02h2.4v1h-2.4zM413.32 423.02h2.4v1h-2.4zM418.05 417.72h2.4v1h-2.4zM418.05 423.02h2.4v1h-2.4zM423.69 417.72h2.4v1h-2.4zM114.75 436.38h2.50v1.35h1.15v2.90h-1.15v1.35h-2.50v-1.35h-1.15v-2.90h1.15zM149.00 436.73h25.00v4.90h-25.00zM158.73 436.03h2.4v1h-2.4zM165.51 436.03h2.4v1h-2.4zM165.51 441.33h2.4v1h-2.4zM169.73 436.03h2.4v1h-2.4zM176.00 436.73h49.00v4.90h-49.00zM188.35 436.03h2.4v1h-2.4zM195.79 441.33h2.4v1h-2.4zM202.76 436.03h2.4v1h-2.4zM213.27 436.03h2.4v1h-2.4zM213.27 441.33h2.4v1h-2.4zM219.24 436.03h2.4v1h-2.4zM219.24 441.33h2.4v1h-2.4zM228.00 436.73h122.80v4.90h-122.80zM229.28 436.03h2.4v1h-2.4zM237.10 436.03h2.4v1h-2.4zM242.94 436.03h2.4v1h-2.4zM250.64 436.03h2.4v1h-2.4zM250.64 441.33h2.4v1h-2.4zM258.94 436.03h2.4v1h-2.4zM265.62 436.03h2.4v1h-2.4zM272.54 441.33h2.4v1h-2.4zM280.94 436.03h2.4v1h-2.4zM280.94 441.33h2.4v1h-2.4zM288.93 436.03h2.4v1h-2.4zM295.56 436.03h2.4v1h-2.4zM300.89 436.03h2.4v1h-2.4zM308.24 436.03h2.4v1h-2.4zM308.24 441.33h2.4v1h-2.4zM313.85 436.03h2.4v1h-2.4zM318.82 441.33h2.4v1h-2.4zM324.84 436.03h2.4v1h-2.4zM333.21 436.03h2.4v1h-2.4zM338.37 436.03h2.4v1h-2.4zM338.37 441.33h2.4v1h-2.4zM344.80 436.03h2.4v1h-2.4zM353.60 436.73h23.70v4.90h-23.70zM359.09 436.03h2.4v1h-2.4zM359.09 441.33h2.4v1h-2.4zM380.25 436.38h2.50v1.35h1.15v2.90h-1.15v1.35h-2.50v-1.35h-1.15v-2.90h1.15zM388.35 436.38h2.50v1.35h1.15v2.90h-1.15v1.35h-2.50v-1.35h-1.15v-2.90h1.15zM394.75 436.38h2.50v1.35h1.15v2.90h-1.15v1.35h-2.50v-1.35h-1.15v-2.90h1.15zM401.00 436.73h23.60v4.90h-23.60zM402.53 436.03h2.4v1h-2.4zM409.01 436.03h2.4v1h-2.4zM409.01 441.33h2.4v1h-2.4zM415.85 436.03h2.4v1h-2.4zM419.86 436.03h2.4v1h-2.4zM419.86 441.33h2.4v1h-2.4zM139.75 454.69h2.50v1.35h1.15v2.90h-1.15v1.35h-2.50v-1.35h-1.15v-2.90h1.15zM146.75 454.69h2.50v1.35h1.15v2.90h-1.15v1.35h-2.50v-1.35h-1.15v-2.90h1.15zM153.75 454.69h2.50v1.35h1.15v2.90h-1.15v1.35h-2.50v-1.35h-1.15v-2.90h1.15zM160.75 454.69h2.50v1.35h1.15v2.90h-1.15v1.35h-2.50v-1.35h-1.15v-2.90h1.15zM167.75 454.69h2.50v1.35h1.15v2.90h-1.15v1.35h-2.50v-1.35h-1.15v-2.90h1.15zM173.75 454.69h2.50v1.35h1.15v2.90h-1.15v1.35h-2.50v-1.35h-1.15v-2.90h1.15zM202.75 454.69h2.50v1.35h1.15v2.90h-1.15v1.35h-2.50v-1.35h-1.15v-2.90h1.15zM211.35 454.69h2.50v1.35h1.15v2.90h-1.15v1.35h-2.50v-1.35h-1.15v-2.90h1.15zM219.75 454.69h2.50v1.35h1.15v2.90h-1.15v1.35h-2.50v-1.35h-1.15v-2.90h1.15zM226.35 454.69h2.50v1.35h1.15v2.90h-1.15v1.35h-2.50v-1.35h-1.15v-2.90h1.15zM232.75 454.69h2.50v1.35h1.15v2.90h-1.15v1.35h-2.50v-1.35h-1.15v-2.90h1.15zM239.25 454.69h2.50v1.35h1.15v2.90h-1.15v1.35h-2.50v-1.35h-1.15v-2.90h1.15zM245.75 454.69h2.50v1.35h1.15v2.90h-1.15v1.35h-2.50v-1.35h-1.15v-2.90h1.15zM251.00 455.04h84.00v4.90h-84.00zM253.13 454.34h2.4v1h-2.4zM253.13 459.64h2.4v1h-2.4zM265.53 454.34h2.4v1h-2.4zM265.53 459.64h2.4v1h-2.4zM270.62 454.34h2.4v1h-2.4zM278.79 454.34h2.4v1h-2.4zM282.49 454.34h2.4v1h-2.4zM288.87 459.64h2.4v1h-2.4zM292.44 454.34h2.4v1h-2.4zM300.63 459.64h2.4v1h-2.4zM306.19 454.34h2.4v1h-2.4zM310.75 454.34h2.4v1h-2.4zM310.75 459.64h2.4v1h-2.4zM314.27 454.34h2.4v1h-2.4zM314.27 459.64h2.4v1h-2.4zM322.60 454.34h2.4v1h-2.4zM326.75 454.34h2.4v1h-2.4zM331.46 459.64h2.4v1h-2.4zM342.35 454.69h2.50v1.35h1.15v2.90h-1.15v1.35h-2.50v-1.35h-1.15v-2.90h1.15zM350.75 454.69h2.50v1.35h1.15v2.90h-1.15v1.35h-2.50v-1.35h-1.15v-2.90h1.15zM356.75 454.69h2.50v1.35h1.15v2.90h-1.15v1.35h-2.50v-1.35h-1.15v-2.90h1.15zM357.75 454.69h2.50v1.35h1.15v2.90h-1.15v1.35h-2.50v-1.35h-1.15v-2.90h1.15zM923.00 308.56h10.00v4.90h-10.00zM936.00 308.56h52.00v4.90h-52.00zM936.47 307.86h2.4v1h-2.4zM942.27 313.16h2.4v1h-2.4zM950.59 313.16h2.4v1h-2.4zM954.17 307.86h2.4v1h-2.4zM958.07 307.86h2.4v1h-2.4zM962.40 313.16h2.4v1h-2.4zM966.19 307.86h2.4v1h-2.4zM971.89 307.86h2.4v1h-2.4zM971.89 313.16h2.4v1h-2.4zM979.37 307.86h2.4v1h-2.4zM838.75 326.52h2.50v1.35h1.15v2.90h-1.15v1.35h-2.50v-1.35h-1.15v-2.90h1.15zM855.75 326.52h2.50v1.35h1.15v2.90h-1.15v1.35h-2.50v-1.35h-1.15v-2.90h1.15zM879.35 326.52h2.50v1.35h1.15v2.90h-1.15v1.35h-2.50v-1.35h-1.15v-2.90h1.15zM893.35 326.52h2.50v1.35h1.15v2.90h-1.15v1.35h-2.50v-1.35h-1.15v-2.90h1.15zM910.00 326.87h67.00v4.90h-67.00zM911.14 326.17h2.4v1h-2.4zM924.32 326.17h2.4v1h-2.4zM931.34 331.47h2.4v1h-2.4zM944.37 326.17h2.4v1h-2.4zM944.37 331.47h2.4v1h-2.4zM952.31 326.17h2.4v1h-2.4zM963.74 326.17h2.4v1h-2.4zM963.74 331.47h2.4v1h-2.4zM969.35 326.17h2.4v1h-2.4zM739.75 344.83h2.50v1.35h1.15v2.90h-1.15v1.35h-2.50v-1.35h-1.15v-2.90h1.15zM758.75 344.83h2.50v1.35h1.15v2.90h-1.15v1.35h-2.50v-1.35h-1.15v-2.90h1.15zM776.75 344.83h2.50v1.35h1.15v2.90h-1.15v1.35h-2.50v-1.35h-1.15v-2.90h1.15zM786.75 344.83h2.50v1.35h1.15v2.90h-1.15v1.35h-2.50v-1.35h-1.15v-2.90h1.15zM789.75 344.83h2.50v1.35h1.15v2.90h-1.15v1.35h-2.50v-1.35h-1.15v-2.90h1.15zM798.75 344.83h2.50v1.35h1.15v2.90h-1.15v1.35h-2.50v-1.35h-1.15v-2.90h1.15zM805.25 344.83h2.50v1.35h1.15v2.90h-1.15v1.35h-2.50v-1.35h-1.15v-2.90h1.15zM813.75 344.83h2.50v1.35h1.15v2.90h-1.15v1.35h-2.50v-1.35h-1.15v-2.90h1.15zM825.00 345.18h25.00v4.90h-25.00zM833.22 344.48h2.4v1h-2.4zM833.22 349.78h2.4v1h-2.4zM857.75 344.83h2.50v1.35h1.15v2.90h-1.15v1.35h-2.50v-1.35h-1.15v-2.90h1.15zM865.75 344.83h2.50v1.35h1.15v2.90h-1.15v1.35h-2.50v-1.35h-1.15v-2.90h1.15zM873.75 344.83h2.50v1.35h1.15v2.90h-1.15v1.35h-2.50v-1.35h-1.15v-2.90h1.15zM885.00 345.18h88.00v4.90h-88.00zM885.99 344.48h2.4v1h-2.4zM893.48 344.48h2.4v1h-2.4zM901.64 344.48h2.4v1h-2.4zM908.53 344.48h2.4v1h-2.4zM908.53 349.78h2.4v1h-2.4zM919.10 344.48h2.4v1h-2.4zM926.46 344.48h2.4v1h-2.4zM940.33 344.48h2.4v1h-2.4zM940.33 349.78h2.4v1h-2.4zM944.79 344.48h2.4v1h-2.4zM950.10 344.48h2.4v1h-2.4zM950.10 349.78h2.4v1h-2.4zM956.19 344.48h2.4v1h-2.4zM956.19 349.78h2.4v1h-2.4zM964.68 344.48h2.4v1h-2.4zM964.68 349.78h2.4v1h-2.4zM679.75 363.14h2.50v1.35h1.15v2.90h-1.15v1.35h-2.50v-1.35h-1.15v-2.90h1.15zM704.75 363.14h2.50v1.35h1.15v2.90h-1.15v1.35h-2.50v-1.35h-1.15v-2.90h1.15zM717.75 363.14h2.50v1.35h1.15v2.90h-1.15v1.35h-2.50v-1.35h-1.15v-2.90h1.15zM728.00 363.49h15.00v4.90h-15.00zM729.87 362.79h2.4v1h-2.4zM735.10 362.79h2.4v1h-2.4zM735.10 368.09h2.4v1h-2.4zM745.75 363.14h2.50v1.35h1.15v2.90h-1.15v1.35h-2.50v-1.35h-1.15v-2.90h1.15zM765.35 363.14h2.50v1.35h1.15v2.90h-1.15v1.35h-2.50v-1.35h-1.15v-2.90h1.15zM785.00 363.49h13.00v4.90h-13.00zM786.43 362.79h2.4v1h-2.4zM814.75 363.14h2.50v1.35h1.15v2.90h-1.15v1.35h-2.50v-1.35h-1.15v-2.90h1.15zM821.25 363.14h2.50v1.35h1.15v2.90h-1.15v1.35h-2.50v-1.35h-1.15v-2.90h1.15zM827.75 363.14h2.50v1.35h1.15v2.90h-1.15v1.35h-2.50v-1.35h-1.15v-2.90h1.15zM833.75 363.14h2.50v1.35h1.15v2.90h-1.15v1.35h-2.50v-1.35h-1.15v-2.90h1.15zM868.75 363.14h2.50v1.35h1.15v2.90h-1.15v1.35h-2.50v-1.35h-1.15v-2.90h1.15zM882.00 363.49h84.00v4.90h-84.00zM884.23 362.79h2.4v1h-2.4zM884.23 368.09h2.4v1h-2.4zM888.73 362.79h2.4v1h-2.4zM888.73 368.09h2.4v1h-2.4zM892.49 362.79h2.4v1h-2.4zM902.10 362.79h2.4v1h-2.4zM902.10 368.09h2.4v1h-2.4zM906.20 368.09h2.4v1h-2.4zM912.52 362.79h2.4v1h-2.4zM919.37 362.79h2.4v1h-2.4zM919.37 368.09h2.4v1h-2.4zM928.28 362.79h2.4v1h-2.4zM928.28 368.09h2.4v1h-2.4zM941.22 362.79h2.4v1h-2.4zM948.27 362.79h2.4v1h-2.4zM952.05 362.79h2.4v1h-2.4zM960.25 362.79h2.4v1h-2.4zM960.25 368.09h2.4v1h-2.4zM645.00 381.80h15.50v4.90h-15.50zM646.82 381.10h2.4v1h-2.4zM646.82 386.40h2.4v1h-2.4zM651.60 381.10h2.4v1h-2.4zM651.60 386.40h2.4v1h-2.4zM655.94 381.10h2.4v1h-2.4zM655.94 386.40h2.4v1h-2.4zM662.25 381.45h2.50v1.35h1.15v2.90h-1.15v1.35h-2.50v-1.35h-1.15v-2.90h1.15zM668.75 381.45h2.50v1.35h1.15v2.90h-1.15v1.35h-2.50v-1.35h-1.15v-2.90h1.15zM738.00 381.80h97.00v4.90h-97.00zM738.33 386.40h2.4v1h-2.4zM742.01 386.40h2.4v1h-2.4zM754.37 381.10h2.4v1h-2.4zM754.37 386.40h2.4v1h-2.4zM768.28 381.10h2.4v1h-2.4zM774.17 381.10h2.4v1h-2.4zM774.17 386.40h2.4v1h-2.4zM778.78 381.10h2.4v1h-2.4zM785.04 381.10h2.4v1h-2.4zM789.87 381.10h2.4v1h-2.4zM789.87 386.40h2.4v1h-2.4zM794.73 386.40h2.4v1h-2.4zM799.07 381.10h2.4v1h-2.4zM799.07 386.40h2.4v1h-2.4zM807.08 381.10h2.4v1h-2.4zM815.42 381.10h2.4v1h-2.4zM815.42 386.40h2.4v1h-2.4zM820.21 381.10h2.4v1h-2.4zM820.21 386.40h2.4v1h-2.4zM838.00 381.80h10.00v4.90h-10.00zM838.88 386.40h2.4v1h-2.4zM860.75 381.45h2.50v1.35h1.15v2.90h-1.15v1.35h-2.50v-1.35h-1.15v-2.90h1.15zM909.00 381.80h44.00v4.90h-44.00zM909.89 386.40h2.4v1h-2.4zM917.42 381.10h2.4v1h-2.4zM917.42 386.40h2.4v1h-2.4zM925.36 381.10h2.4v1h-2.4zM929.95 381.10h2.4v1h-2.4zM929.95 386.40h2.4v1h-2.4zM938.84 381.10h2.4v1h-2.4zM938.84 386.40h2.4v1h-2.4zM945.38 381.10h2.4v1h-2.4zM945.38 386.40h2.4v1h-2.4zM949.91 381.10h2.4v1h-2.4zM645.00 400.11h10.00v4.90h-10.00zM646.47 399.41h2.4v1h-2.4zM646.47 404.71h2.4v1h-2.4zM660.00 400.11h12.00v4.90h-12.00zM661.12 404.71h2.4v1h-2.4zM668.67 399.41h2.4v1h-2.4zM731.00 400.11h41.00v4.90h-41.00zM732.29 399.41h2.4v1h-2.4zM738.17 404.71h2.4v1h-2.4zM742.60 404.71h2.4v1h-2.4zM746.92 399.41h2.4v1h-2.4zM750.44 399.41h2.4v1h-2.4zM750.44 404.71h2.4v1h-2.4zM756.52 399.41h2.4v1h-2.4zM764.10 404.71h2.4v1h-2.4zM895.75 399.76h2.50v1.35h1.15v2.90h-1.15v1.35h-2.50v-1.35h-1.15v-2.90h1.15zM903.00 400.11h45.00v4.90h-45.00zM904.06 404.71h2.4v1h-2.4zM911.93 404.71h2.4v1h-2.4zM917.99 399.41h2.4v1h-2.4zM921.60 404.71h2.4v1h-2.4zM926.01 399.41h2.4v1h-2.4zM926.01 404.71h2.4v1h-2.4zM933.59 399.41h2.4v1h-2.4zM933.59 404.71h2.4v1h-2.4zM940.59 399.41h2.4v1h-2.4zM940.59 404.71h2.4v1h-2.4zM670.00 418.42h11.00v4.90h-11.00zM671.45 417.72h2.4v1h-2.4zM755.00 418.42h23.00v4.90h-23.00zM755.55 417.72h2.4v1h-2.4zM760.44 417.72h2.4v1h-2.4zM760.44 423.02h2.4v1h-2.4zM764.63 417.72h2.4v1h-2.4zM768.87 417.72h2.4v1h-2.4zM785.75 418.07h2.50v1.35h1.15v2.90h-1.15v1.35h-2.50v-1.35h-1.15v-2.90h1.15zM809.75 418.07h2.50v1.35h1.15v2.90h-1.15v1.35h-2.50v-1.35h-1.15v-2.90h1.15zM821.75 418.07h2.50v1.35h1.15v2.90h-1.15v1.35h-2.50v-1.35h-1.15v-2.90h1.15zM851.75 418.07h2.50v1.35h1.15v2.90h-1.15v1.35h-2.50v-1.35h-1.15v-2.90h1.15zM862.00 418.42h33.00v4.90h-33.00zM873.81 417.72h2.4v1h-2.4zM873.81 423.02h2.4v1h-2.4zM891.32 417.72h2.4v1h-2.4zM900.75 418.07h2.50v1.35h1.15v2.90h-1.15v1.35h-2.50v-1.35h-1.15v-2.90h1.15zM909.00 418.42h35.00v4.90h-35.00zM909.80 417.72h2.4v1h-2.4zM915.12 417.72h2.4v1h-2.4zM915.12 423.02h2.4v1h-2.4zM920.79 417.72h2.4v1h-2.4zM920.79 423.02h2.4v1h-2.4zM933.17 417.72h2.4v1h-2.4zM941.09 423.02h2.4v1h-2.4zM674.00 436.73h32.00v4.90h-32.00zM674.83 436.03h2.4v1h-2.4zM674.83 441.33h2.4v1h-2.4zM685.80 436.03h2.4v1h-2.4zM685.80 441.33h2.4v1h-2.4zM694.05 436.03h2.4v1h-2.4zM694.05 441.33h2.4v1h-2.4zM700.79 436.03h2.4v1h-2.4zM738.75 436.38h2.50v1.35h1.15v2.90h-1.15v1.35h-2.50v-1.35h-1.15v-2.90h1.15zM760.00 436.73h175.00v4.90h-175.00zM761.33 436.03h2.4v1h-2.4zM761.33 441.33h2.4v1h-2.4zM767.50 436.03h2.4v1h-2.4zM767.50 441.33h2.4v1h-2.4zM771.65 436.03h2.4v1h-2.4zM771.65 441.33h2.4v1h-2.4zM776.60 436.03h2.4v1h-2.4zM776.60 441.33h2.4v1h-2.4zM789.18 436.03h2.4v1h-2.4zM789.18 441.33h2.4v1h-2.4zM796.23 436.03h2.4v1h-2.4zM802.79 436.03h2.4v1h-2.4zM802.79 441.33h2.4v1h-2.4zM807.50 436.03h2.4v1h-2.4zM812.92 436.03h2.4v1h-2.4zM812.92 441.33h2.4v1h-2.4zM818.18 441.33h2.4v1h-2.4zM824.47 436.03h2.4v1h-2.4zM824.47 441.33h2.4v1h-2.4zM832.90 436.03h2.4v1h-2.4zM837.20 436.03h2.4v1h-2.4zM842.90 436.03h2.4v1h-2.4zM842.90 441.33h2.4v1h-2.4zM848.60 441.33h2.4v1h-2.4zM857.50 436.03h2.4v1h-2.4zM857.50 441.33h2.4v1h-2.4zM864.37 436.03h2.4v1h-2.4zM871.98 436.03h2.4v1h-2.4zM879.19 441.33h2.4v1h-2.4zM890.76 441.33h2.4v1h-2.4zM898.08 436.03h2.4v1h-2.4zM898.08 441.33h2.4v1h-2.4zM906.40 436.03h2.4v1h-2.4zM906.40 441.33h2.4v1h-2.4zM919.21 436.03h2.4v1h-2.4zM919.21 441.33h2.4v1h-2.4zM926.33 436.03h2.4v1h-2.4zM926.33 441.33h2.4v1h-2.4zM701.75 454.69h2.50v1.35h1.15v2.90h-1.15v1.35h-2.50v-1.35h-1.15v-2.90h1.15zM711.00 455.04h99.00v4.90h-99.00zM712.07 454.34h2.4v1h-2.4zM719.82 454.34h2.4v1h-2.4zM719.82 459.64h2.4v1h-2.4zM724.24 454.34h2.4v1h-2.4zM724.24 459.64h2.4v1h-2.4zM730.62 454.34h2.4v1h-2.4zM730.62 459.64h2.4v1h-2.4zM738.72 454.34h2.4v1h-2.4zM746.41 459.64h2.4v1h-2.4zM752.04 459.64h2.4v1h-2.4zM755.78 454.34h2.4v1h-2.4zM755.78 459.64h2.4v1h-2.4zM772.37 454.34h2.4v1h-2.4zM779.30 454.34h2.4v1h-2.4zM779.30 459.64h2.4v1h-2.4zM785.77 454.34h2.4v1h-2.4zM792.65 454.34h2.4v1h-2.4zM792.65 459.64h2.4v1h-2.4zM798.02 454.34h2.4v1h-2.4zM805.75 454.69h2.50v1.35h1.15v2.90h-1.15v1.35h-2.50v-1.35h-1.15v-2.90h1.15zM812.75 454.69h2.50v1.35h1.15v2.90h-1.15v1.35h-2.50v-1.35h-1.15v-2.90h1.15zM821.75 454.69h2.50v1.35h1.15v2.90h-1.15v1.35h-2.50v-1.35h-1.15v-2.90h1.15zM829.75 454.69h2.50v1.35h1.15v2.90h-1.15v1.35h-2.50v-1.35h-1.15v-2.90h1.15zM838.75 454.69h2.50v1.35h1.15v2.90h-1.15v1.35h-2.50v-1.35h-1.15v-2.90h1.15zM845.75 454.69h2.50v1.35h1.15v2.90h-1.15v1.35h-2.50v-1.35h-1.15v-2.90h1.15zM327.00 564.02h51.00v4.90h-51.00zM328.18 563.32h2.4v1h-2.4zM333.40 563.32h2.4v1h-2.4zM337.75 563.32h2.4v1h-2.4zM345.38 563.32h2.4v1h-2.4zM345.38 568.62h2.4v1h-2.4zM353.35 563.32h2.4v1h-2.4zM361.80 568.62h2.4v1h-2.4zM366.09 563.32h2.4v1h-2.4zM372.11 563.32h2.4v1h-2.4zM372.11 568.62h2.4v1h-2.4zM325.25 581.84h2.50v1.35h1.15v2.90h-1.15v1.35h-2.50v-1.35h-1.15v-2.90h1.15zM331.75 581.84h2.50v1.35h1.15v2.90h-1.15v1.35h-2.50v-1.35h-1.15v-2.90h1.15zM334.75 581.84h2.50v1.35h1.15v2.90h-1.15v1.35h-2.50v-1.35h-1.15v-2.90h1.15zM342.00 582.19h35.00v4.90h-35.00zM343.51 581.49h2.4v1h-2.4zM350.19 581.49h2.4v1h-2.4zM350.19 586.79h2.4v1h-2.4zM357.63 581.49h2.4v1h-2.4zM361.15 581.49h2.4v1h-2.4zM367.58 581.49h2.4v1h-2.4zM367.58 586.79h2.4v1h-2.4zM373.57 581.49h2.4v1h-2.4zM373.57 586.79h2.4v1h-2.4zM380.75 581.84h2.50v1.35h1.15v2.90h-1.15v1.35h-2.50v-1.35h-1.15v-2.90h1.15zM382.75 581.84h2.50v1.35h1.15v2.90h-1.15v1.35h-2.50v-1.35h-1.15v-2.90h1.15zM389.75 581.84h2.50v1.35h1.15v2.90h-1.15v1.35h-2.50v-1.35h-1.15v-2.90h1.15zM302.75 600.01h2.50v1.35h1.15v2.90h-1.15v1.35h-2.50v-1.35h-1.15v-2.90h1.15zM318.75 600.01h2.50v1.35h1.15v2.90h-1.15v1.35h-2.50v-1.35h-1.15v-2.90h1.15zM330.00 600.36h88.00v4.90h-88.00zM336.92 599.66h2.4v1h-2.4zM336.92 604.96h2.4v1h-2.4zM344.22 599.66h2.4v1h-2.4zM344.22 604.96h2.4v1h-2.4zM348.57 599.66h2.4v1h-2.4zM355.13 604.96h2.4v1h-2.4zM358.70 604.96h2.4v1h-2.4zM365.77 599.66h2.4v1h-2.4zM365.77 604.96h2.4v1h-2.4zM370.61 599.66h2.4v1h-2.4zM377.02 599.66h2.4v1h-2.4zM377.02 604.96h2.4v1h-2.4zM382.45 599.66h2.4v1h-2.4zM388.86 604.96h2.4v1h-2.4zM395.46 599.66h2.4v1h-2.4zM395.46 604.96h2.4v1h-2.4zM403.61 604.96h2.4v1h-2.4zM411.61 604.96h2.4v1h-2.4zM422.75 600.01h2.50v1.35h1.15v2.90h-1.15v1.35h-2.50v-1.35h-1.15v-2.90h1.15zM254.75 618.18h2.50v1.35h1.15v2.90h-1.15v1.35h-2.50v-1.35h-1.15v-2.90h1.15zM256.75 618.18h2.50v1.35h1.15v2.90h-1.15v1.35h-2.50v-1.35h-1.15v-2.90h1.15zM264.75 618.18h2.50v1.35h1.15v2.90h-1.15v1.35h-2.50v-1.35h-1.15v-2.90h1.15zM288.15 618.18h2.50v1.35h1.15v2.90h-1.15v1.35h-2.50v-1.35h-1.15v-2.90h1.15zM300.75 618.18h2.50v1.35h1.15v2.90h-1.15v1.35h-2.50v-1.35h-1.15v-2.90h1.15zM314.75 618.18h2.50v1.35h1.15v2.90h-1.15v1.35h-2.50v-1.35h-1.15v-2.90h1.15zM324.00 618.53h24.00v4.90h-24.00zM326.22 617.83h2.4v1h-2.4zM330.93 617.83h2.4v1h-2.4zM335.54 617.83h2.4v1h-2.4zM341.46 623.13h2.4v1h-2.4zM349.00 618.53h56.00v4.90h-56.00zM350.02 617.83h2.4v1h-2.4zM354.97 617.83h2.4v1h-2.4zM354.97 623.13h2.4v1h-2.4zM361.14 617.83h2.4v1h-2.4zM361.14 623.13h2.4v1h-2.4zM364.97 617.83h2.4v1h-2.4zM370.22 617.83h2.4v1h-2.4zM370.22 623.13h2.4v1h-2.4zM375.14 617.83h2.4v1h-2.4zM375.14 623.13h2.4v1h-2.4zM381.96 617.83h2.4v1h-2.4zM381.96 623.13h2.4v1h-2.4zM388.99 617.83h2.4v1h-2.4zM388.99 623.13h2.4v1h-2.4zM396.67 617.83h2.4v1h-2.4zM396.67 623.13h2.4v1h-2.4zM407.35 618.18h2.50v1.35h1.15v2.90h-1.15v1.35h-2.50v-1.35h-1.15v-2.90h1.15zM418.00 618.53h18.00v4.90h-18.00zM419.91 617.83h2.4v1h-2.4zM419.91 623.13h2.4v1h-2.4zM427.02 617.83h2.4v1h-2.4zM449.35 618.18h2.50v1.35h1.15v2.90h-1.15v1.35h-2.50v-1.35h-1.15v-2.90h1.15zM458.75 618.18h2.50v1.35h1.15v2.90h-1.15v1.35h-2.50v-1.35h-1.15v-2.90h1.15zM251.75 636.35h2.50v1.35h1.15v2.90h-1.15v1.35h-2.50v-1.35h-1.15v-2.90h1.15zM299.00 636.70h10.00v4.90h-10.00zM300.21 636.00h2.4v1h-2.4zM314.00 636.70h86.00v4.90h-86.00zM314.79 636.00h2.4v1h-2.4zM314.79 641.30h2.4v1h-2.4zM322.65 636.00h2.4v1h-2.4zM328.87 636.00h2.4v1h-2.4zM334.29 636.00h2.4v1h-2.4zM339.35 636.00h2.4v1h-2.4zM339.35 641.30h2.4v1h-2.4zM343.73 641.30h2.4v1h-2.4zM350.54 636.00h2.4v1h-2.4zM355.85 636.00h2.4v1h-2.4zM355.85 641.30h2.4v1h-2.4zM359.68 636.00h2.4v1h-2.4zM359.68 641.30h2.4v1h-2.4zM363.81 641.30h2.4v1h-2.4zM377.24 641.30h2.4v1h-2.4zM382.13 636.00h2.4v1h-2.4zM388.94 636.00h2.4v1h-2.4zM388.94 641.30h2.4v1h-2.4zM395.74 636.00h2.4v1h-2.4zM395.74 641.30h2.4v1h-2.4zM241.00 654.87h16.00v4.90h-16.00zM242.00 654.17h2.4v1h-2.4zM242.00 659.47h2.4v1h-2.4zM253.14 654.17h2.4v1h-2.4zM253.14 659.47h2.4v1h-2.4zM267.75 654.52h2.50v1.35h1.15v2.90h-1.15v1.35h-2.50v-1.35h-1.15v-2.90h1.15zM268.75 654.52h2.50v1.35h1.15v2.90h-1.15v1.35h-2.50v-1.35h-1.15v-2.90h1.15zM279.75 654.52h2.50v1.35h1.15v2.90h-1.15v1.35h-2.50v-1.35h-1.15v-2.90h1.15zM286.00 654.87h13.00v4.90h-13.00zM286.70 654.17h2.4v1h-2.4zM286.70 659.47h2.4v1h-2.4zM290.39 654.17h2.4v1h-2.4zM305.00 654.87h66.00v4.90h-66.00zM305.81 654.17h2.4v1h-2.4zM311.05 654.17h2.4v1h-2.4zM318.44 654.17h2.4v1h-2.4zM318.44 659.47h2.4v1h-2.4zM326.21 654.17h2.4v1h-2.4zM326.21 659.47h2.4v1h-2.4zM330.93 654.17h2.4v1h-2.4zM339.41 654.17h2.4v1h-2.4zM339.41 659.47h2.4v1h-2.4zM346.65 659.47h2.4v1h-2.4zM350.60 659.47h2.4v1h-2.4zM358.75 654.17h2.4v1h-2.4zM366.40 654.17h2.4v1h-2.4zM366.40 659.47h2.4v1h-2.4zM215.00 673.04h37.00v4.90h-37.00zM216.70 672.34h2.4v1h-2.4zM224.84 672.34h2.4v1h-2.4zM233.36 672.34h2.4v1h-2.4zM240.05 672.34h2.4v1h-2.4zM240.05 677.64h2.4v1h-2.4zM243.85 672.34h2.4v1h-2.4zM243.85 677.64h2.4v1h-2.4zM248.35 672.34h2.4v1h-2.4zM248.35 677.64h2.4v1h-2.4zM278.35 672.69h2.50v1.35h1.15v2.90h-1.15v1.35h-2.50v-1.35h-1.15v-2.90h1.15zM281.55 672.69h2.50v1.35h1.15v2.90h-1.15v1.35h-2.50v-1.35h-1.15v-2.90h1.15zM292.40 673.04h16.60v4.90h-16.60zM294.04 672.34h2.4v1h-2.4zM294.04 677.64h2.4v1h-2.4zM300.12 672.34h2.4v1h-2.4zM305.37 672.34h2.4v1h-2.4zM318.00 673.04h13.50v4.90h-13.50zM319.43 672.34h2.4v1h-2.4zM325.67 677.64h2.4v1h-2.4zM334.00 673.04h16.60v4.90h-16.60zM335.50 672.34h2.4v1h-2.4zM343.15 672.34h2.4v1h-2.4zM343.15 677.64h2.4v1h-2.4zM360.50 673.04h10.80v4.90h-10.80zM361.21 672.34h2.4v1h-2.4zM361.21 677.64h2.4v1h-2.4zM365.70 677.64h2.4v1h-2.4zM400.25 672.69h2.50v1.35h1.15v2.90h-1.15v1.35h-2.50v-1.35h-1.15v-2.90h1.15zM409.75 672.69h2.50v1.35h1.15v2.90h-1.15v1.35h-2.50v-1.35h-1.15v-2.90h1.15zM421.75 672.69h2.50v1.35h1.15v2.90h-1.15v1.35h-2.50v-1.35h-1.15v-2.90h1.15zM88.00 691.21h23.00v4.90h-23.00zM88.95 690.51h2.4v1h-2.4zM88.95 695.81h2.4v1h-2.4zM93.29 690.51h2.4v1h-2.4zM93.29 695.81h2.4v1h-2.4zM101.75 695.81h2.4v1h-2.4zM113.00 691.21h15.00v4.90h-15.00zM115.26 690.51h2.4v1h-2.4zM115.26 695.81h2.4v1h-2.4zM121.20 690.51h2.4v1h-2.4zM121.20 695.81h2.4v1h-2.4zM130.00 691.21h16.00v4.90h-16.00zM141.71 690.51h2.4v1h-2.4zM141.71 695.81h2.4v1h-2.4zM154.75 690.86h2.50v1.35h1.15v2.90h-1.15v1.35h-2.50v-1.35h-1.15v-2.90h1.15zM155.75 690.86h2.50v1.35h1.15v2.90h-1.15v1.35h-2.50v-1.35h-1.15v-2.90h1.15zM162.00 691.21h13.00v4.90h-13.00zM163.85 695.81h2.4v1h-2.4zM168.28 690.51h2.4v1h-2.4zM180.75 690.86h2.50v1.35h1.15v2.90h-1.15v1.35h-2.50v-1.35h-1.15v-2.90h1.15zM189.75 690.86h2.50v1.35h1.15v2.90h-1.15v1.35h-2.50v-1.35h-1.15v-2.90h1.15zM199.00 691.21h11.00v4.90h-11.00zM206.85 690.51h2.4v1h-2.4zM206.85 695.81h2.4v1h-2.4zM214.00 691.21h67.60v4.90h-67.60zM214.94 690.51h2.4v1h-2.4zM220.29 695.81h2.4v1h-2.4zM223.99 690.51h2.4v1h-2.4zM239.82 690.51h2.4v1h-2.4zM239.82 695.81h2.4v1h-2.4zM244.10 690.51h2.4v1h-2.4zM248.00 690.51h2.4v1h-2.4zM248.00 695.81h2.4v1h-2.4zM253.72 695.81h2.4v1h-2.4zM257.42 690.51h2.4v1h-2.4zM257.42 695.81h2.4v1h-2.4zM264.54 690.51h2.4v1h-2.4zM272.31 695.81h2.4v1h-2.4zM277.23 690.51h2.4v1h-2.4zM285.00 691.21h24.00v4.90h-24.00zM285.98 690.51h2.4v1h-2.4zM293.61 695.81h2.4v1h-2.4zM298.59 690.51h2.4v1h-2.4zM303.83 690.51h2.4v1h-2.4zM303.83 695.81h2.4v1h-2.4zM310.70 691.21h27.30v4.90h-27.30zM326.35 695.81h2.4v1h-2.4zM333.23 690.51h2.4v1h-2.4zM333.23 695.81h2.4v1h-2.4zM345.50 691.21h10.00v4.90h-10.00zM347.71 690.51h2.4v1h-2.4zM352.70 690.51h2.4v1h-2.4zM364.75 690.86h2.50v1.35h1.15v2.90h-1.15v1.35h-2.50v-1.35h-1.15v-2.90h1.15zM365.35 690.86h2.50v1.35h1.15v2.90h-1.15v1.35h-2.50v-1.35h-1.15v-2.90h1.15zM374.75 690.86h2.50v1.35h1.15v2.90h-1.15v1.35h-2.50v-1.35h-1.15v-2.90h1.15zM376.15 690.86h2.50v1.35h1.15v2.90h-1.15v1.35h-2.50v-1.35h-1.15v-2.90h1.15zM394.05 690.86h2.50v1.35h1.15v2.90h-1.15v1.35h-2.50v-1.35h-1.15v-2.90h1.15zM409.75 690.86h2.50v1.35h1.15v2.90h-1.15v1.35h-2.50v-1.35h-1.15v-2.90h1.15zM117.00 709.38h23.00v4.90h-23.00zM117.68 708.68h2.4v1h-2.4zM117.68 713.98h2.4v1h-2.4zM121.60 708.68h2.4v1h-2.4zM121.60 713.98h2.4v1h-2.4zM128.01 708.68h2.4v1h-2.4zM134.33 708.68h2.4v1h-2.4zM134.33 713.98h2.4v1h-2.4zM173.75 709.03h2.50v1.35h1.15v2.90h-1.15v1.35h-2.50v-1.35h-1.15v-2.90h1.15zM180.00 709.38h12.00v4.90h-12.00zM182.08 708.68h2.4v1h-2.4zM182.08 713.98h2.4v1h-2.4zM195.00 709.38h42.00v4.90h-42.00zM195.81 708.68h2.4v1h-2.4zM200.56 708.68h2.4v1h-2.4zM205.20 708.68h2.4v1h-2.4zM205.20 713.98h2.4v1h-2.4zM211.26 708.68h2.4v1h-2.4zM211.26 713.98h2.4v1h-2.4zM216.80 708.68h2.4v1h-2.4zM216.80 713.98h2.4v1h-2.4zM224.62 708.68h2.4v1h-2.4zM231.91 708.68h2.4v1h-2.4zM243.00 709.38h40.00v4.90h-40.00zM243.50 713.98h2.4v1h-2.4zM255.24 708.68h2.4v1h-2.4zM259.02 708.68h2.4v1h-2.4zM259.02 713.98h2.4v1h-2.4zM262.60 708.68h2.4v1h-2.4zM262.60 713.98h2.4v1h-2.4zM267.60 713.98h2.4v1h-2.4zM275.54 708.68h2.4v1h-2.4zM284.00 709.38h31.00v4.90h-31.00zM286.14 713.98h2.4v1h-2.4zM293.36 708.68h2.4v1h-2.4zM300.26 713.98h2.4v1h-2.4zM321.35 709.03h2.50v1.35h1.15v2.90h-1.15v1.35h-2.50v-1.35h-1.15v-2.90h1.15zM344.75 709.03h2.50v1.35h1.15v2.90h-1.15v1.35h-2.50v-1.35h-1.15v-2.90h1.15zM381.75 709.03h2.50v1.35h1.15v2.90h-1.15v1.35h-2.50v-1.35h-1.15v-2.90h1.15zM899.00 564.02h45.00v4.90h-45.00zM899.39 563.32h2.4v1h-2.4zM899.39 568.62h2.4v1h-2.4zM905.63 568.62h2.4v1h-2.4zM913.76 563.32h2.4v1h-2.4zM913.76 568.62h2.4v1h-2.4zM918.22 563.32h2.4v1h-2.4zM924.63 563.32h2.4v1h-2.4zM924.63 568.62h2.4v1h-2.4zM928.68 568.62h2.4v1h-2.4zM934.95 563.32h2.4v1h-2.4zM940.36 563.32h2.4v1h-2.4zM902.00 582.19h59.00v4.90h-59.00zM907.25 581.49h2.4v1h-2.4zM907.25 586.79h2.4v1h-2.4zM916.93 581.49h2.4v1h-2.4zM923.83 581.49h2.4v1h-2.4zM923.83 586.79h2.4v1h-2.4zM928.12 586.79h2.4v1h-2.4zM935.99 581.49h2.4v1h-2.4zM935.99 586.79h2.4v1h-2.4zM941.13 581.49h2.4v1h-2.4zM947.58 581.49h2.4v1h-2.4zM947.58 586.79h2.4v1h-2.4zM952.89 581.49h2.4v1h-2.4zM967.75 581.84h2.50v1.35h1.15v2.90h-1.15v1.35h-2.50v-1.35h-1.15v-2.90h1.15zM884.75 600.01h2.50v1.35h1.15v2.90h-1.15v1.35h-2.50v-1.35h-1.15v-2.90h1.15zM895.00 600.36h84.00v4.90h-84.00zM896.01 599.66h2.4v1h-2.4zM901.18 599.66h2.4v1h-2.4zM901.18 604.96h2.4v1h-2.4zM909.61 599.66h2.4v1h-2.4zM909.61 604.96h2.4v1h-2.4zM916.46 599.66h2.4v1h-2.4zM916.46 604.96h2.4v1h-2.4zM922.46 599.66h2.4v1h-2.4zM932.27 599.66h2.4v1h-2.4zM946.81 599.66h2.4v1h-2.4zM946.81 604.96h2.4v1h-2.4zM961.19 599.66h2.4v1h-2.4zM968.39 599.66h2.4v1h-2.4zM973.64 599.66h2.4v1h-2.4zM973.64 604.96h2.4v1h-2.4zM802.00 618.53h12.00v4.90h-12.00zM802.97 617.83h2.4v1h-2.4zM808.88 617.83h2.4v1h-2.4zM808.88 623.13h2.4v1h-2.4zM862.75 618.18h2.50v1.35h1.15v2.90h-1.15v1.35h-2.50v-1.35h-1.15v-2.90h1.15zM875.75 618.18h2.50v1.35h1.15v2.90h-1.15v1.35h-2.50v-1.35h-1.15v-2.90h1.15zM886.00 618.53h75.00v4.90h-75.00zM887.00 617.83h2.4v1h-2.4zM887.00 623.13h2.4v1h-2.4zM894.85 617.83h2.4v1h-2.4zM894.85 623.13h2.4v1h-2.4zM901.20 617.83h2.4v1h-2.4zM901.20 623.13h2.4v1h-2.4zM905.03 617.83h2.4v1h-2.4zM905.03 623.13h2.4v1h-2.4zM912.16 617.83h2.4v1h-2.4zM921.26 617.83h2.4v1h-2.4zM929.70 617.83h2.4v1h-2.4zM935.34 623.13h2.4v1h-2.4zM941.27 623.13h2.4v1h-2.4zM946.05 617.83h2.4v1h-2.4zM946.05 623.13h2.4v1h-2.4zM950.89 623.13h2.4v1h-2.4zM956.39 617.83h2.4v1h-2.4zM965.75 618.18h2.50v1.35h1.15v2.90h-1.15v1.35h-2.50v-1.35h-1.15v-2.90h1.15zM976.75 618.18h2.50v1.35h1.15v2.90h-1.15v1.35h-2.50v-1.35h-1.15v-2.90h1.15zM989.75 618.18h2.50v1.35h1.15v2.90h-1.15v1.35h-2.50v-1.35h-1.15v-2.90h1.15zM795.75 636.35h2.50v1.35h1.15v2.90h-1.15v1.35h-2.50v-1.35h-1.15v-2.90h1.15zM797.75 636.35h2.50v1.35h1.15v2.90h-1.15v1.35h-2.50v-1.35h-1.15v-2.90h1.15zM857.75 636.35h2.50v1.35h1.15v2.90h-1.15v1.35h-2.50v-1.35h-1.15v-2.90h1.15zM858.75 636.35h2.50v1.35h1.15v2.90h-1.15v1.35h-2.50v-1.35h-1.15v-2.90h1.15zM875.75 636.35h2.50v1.35h1.15v2.90h-1.15v1.35h-2.50v-1.35h-1.15v-2.90h1.15zM880.00 636.70h15.00v4.90h-15.00zM881.60 636.00h2.4v1h-2.4zM889.91 636.00h2.4v1h-2.4zM889.91 641.30h2.4v1h-2.4zM898.00 636.70h50.00v4.90h-50.00zM900.05 636.00h2.4v1h-2.4zM900.05 641.30h2.4v1h-2.4zM904.49 636.00h2.4v1h-2.4zM911.19 641.30h2.4v1h-2.4zM921.85 636.00h2.4v1h-2.4zM921.85 641.30h2.4v1h-2.4zM925.64 636.00h2.4v1h-2.4zM925.64 641.30h2.4v1h-2.4zM932.27 636.00h2.4v1h-2.4zM932.27 641.30h2.4v1h-2.4zM938.76 636.00h2.4v1h-2.4zM938.76 641.30h2.4v1h-2.4zM952.75 636.35h2.50v1.35h1.15v2.90h-1.15v1.35h-2.50v-1.35h-1.15v-2.90h1.15zM955.75 636.35h2.50v1.35h1.15v2.90h-1.15v1.35h-2.50v-1.35h-1.15v-2.90h1.15zM786.00 654.87h11.00v4.90h-11.00zM786.41 654.17h2.4v1h-2.4zM791.56 654.17h2.4v1h-2.4zM791.56 659.47h2.4v1h-2.4zM814.75 654.52h2.50v1.35h1.15v2.90h-1.15v1.35h-2.50v-1.35h-1.15v-2.90h1.15zM815.75 654.52h2.50v1.35h1.15v2.90h-1.15v1.35h-2.50v-1.35h-1.15v-2.90h1.15zM825.75 654.52h2.50v1.35h1.15v2.90h-1.15v1.35h-2.50v-1.35h-1.15v-2.90h1.15zM835.75 654.52h2.50v1.35h1.15v2.90h-1.15v1.35h-2.50v-1.35h-1.15v-2.90h1.15zM836.75 654.52h2.50v1.35h1.15v2.90h-1.15v1.35h-2.50v-1.35h-1.15v-2.90h1.15zM847.00 654.87h10.00v4.90h-10.00zM848.83 654.17h2.4v1h-2.4zM861.00 654.87h69.00v4.90h-69.00zM862.38 654.17h2.4v1h-2.4zM869.16 654.17h2.4v1h-2.4zM869.16 659.47h2.4v1h-2.4zM876.37 654.17h2.4v1h-2.4zM883.69 659.47h2.4v1h-2.4zM891.05 659.47h2.4v1h-2.4zM895.94 654.17h2.4v1h-2.4zM900.10 654.17h2.4v1h-2.4zM900.10 659.47h2.4v1h-2.4zM906.88 659.47h2.4v1h-2.4zM915.32 654.17h2.4v1h-2.4zM919.27 654.17h2.4v1h-2.4zM919.27 659.47h2.4v1h-2.4zM923.07 654.17h2.4v1h-2.4zM774.00 673.04h42.00v4.90h-42.00zM776.18 672.34h2.4v1h-2.4zM776.18 677.64h2.4v1h-2.4zM784.88 672.34h2.4v1h-2.4zM789.59 677.64h2.4v1h-2.4zM796.27 672.34h2.4v1h-2.4zM802.07 672.34h2.4v1h-2.4zM806.11 677.64h2.4v1h-2.4zM812.84 672.34h2.4v1h-2.4zM821.00 673.04h10.00v4.90h-10.00zM822.43 672.34h2.4v1h-2.4zM839.75 672.69h2.50v1.35h1.15v2.90h-1.15v1.35h-2.50v-1.35h-1.15v-2.90h1.15zM851.00 673.04h14.00v4.90h-14.00zM852.55 672.34h2.4v1h-2.4zM852.55 677.64h2.4v1h-2.4zM857.37 672.34h2.4v1h-2.4zM857.37 677.64h2.4v1h-2.4zM868.00 673.04h20.00v4.90h-20.00zM870.29 672.34h2.4v1h-2.4zM884.32 672.34h2.4v1h-2.4zM884.32 677.64h2.4v1h-2.4zM897.00 673.04h13.00v4.90h-13.00zM897.62 672.34h2.4v1h-2.4zM903.39 672.34h2.4v1h-2.4zM916.00 673.04h13.00v4.90h-13.00zM918.07 672.34h2.4v1h-2.4zM925.88 672.34h2.4v1h-2.4zM946.00 673.04h10.00v4.90h-10.00zM946.90 672.34h2.4v1h-2.4zM946.90 677.64h2.4v1h-2.4zM968.75 672.69h2.50v1.35h1.15v2.90h-1.15v1.35h-2.50v-1.35h-1.15v-2.90h1.15zM628.75 690.86h2.50v1.35h1.15v2.90h-1.15v1.35h-2.50v-1.35h-1.15v-2.90h1.15zM639.00 691.21h13.00v4.90h-13.00zM639.32 695.81h2.4v1h-2.4zM646.50 690.51h2.4v1h-2.4zM646.50 695.81h2.4v1h-2.4zM657.00 691.21h12.00v4.90h-12.00zM657.48 690.51h2.4v1h-2.4zM674.00 691.21h37.00v4.90h-37.00zM678.46 690.51h2.4v1h-2.4zM678.46 695.81h2.4v1h-2.4zM684.11 690.51h2.4v1h-2.4zM684.11 695.81h2.4v1h-2.4zM692.56 690.51h2.4v1h-2.4zM696.67 690.51h2.4v1h-2.4zM696.67 695.81h2.4v1h-2.4zM702.31 690.51h2.4v1h-2.4zM718.75 690.86h2.50v1.35h1.15v2.90h-1.15v1.35h-2.50v-1.35h-1.15v-2.90h1.15zM732.00 691.21h10.00v4.90h-10.00zM733.01 690.51h2.4v1h-2.4zM738.25 690.51h2.4v1h-2.4zM751.75 690.86h2.50v1.35h1.15v2.90h-1.15v1.35h-2.50v-1.35h-1.15v-2.90h1.15zM767.00 691.21h35.00v4.90h-35.00zM768.76 690.51h2.4v1h-2.4zM768.76 695.81h2.4v1h-2.4zM773.59 690.51h2.4v1h-2.4zM773.59 695.81h2.4v1h-2.4zM779.63 690.51h2.4v1h-2.4zM784.94 690.51h2.4v1h-2.4zM791.71 690.51h2.4v1h-2.4zM809.25 690.86h2.50v1.35h1.15v2.90h-1.15v1.35h-2.50v-1.35h-1.15v-2.90h1.15zM821.00 691.21h67.00v4.90h-67.00zM822.10 690.51h2.4v1h-2.4zM822.10 695.81h2.4v1h-2.4zM830.46 690.51h2.4v1h-2.4zM830.46 695.81h2.4v1h-2.4zM836.01 690.51h2.4v1h-2.4zM839.54 690.51h2.4v1h-2.4zM844.31 690.51h2.4v1h-2.4zM844.31 695.81h2.4v1h-2.4zM849.02 690.51h2.4v1h-2.4zM849.02 695.81h2.4v1h-2.4zM860.48 690.51h2.4v1h-2.4zM860.48 695.81h2.4v1h-2.4zM867.21 690.51h2.4v1h-2.4zM867.21 695.81h2.4v1h-2.4zM875.57 690.51h2.4v1h-2.4zM883.34 690.51h2.4v1h-2.4zM896.00 691.21h18.00v4.90h-18.00zM896.77 690.51h2.4v1h-2.4zM902.16 695.81h2.4v1h-2.4zM908.29 690.51h2.4v1h-2.4zM920.75 690.86h2.50v1.35h1.15v2.90h-1.15v1.35h-2.50v-1.35h-1.15v-2.90h1.15zM922.75 690.86h2.50v1.35h1.15v2.90h-1.15v1.35h-2.50v-1.35h-1.15v-2.90h1.15zM946.75 690.86h2.50v1.35h1.15v2.90h-1.15v1.35h-2.50v-1.35h-1.15v-2.90h1.15zM662.00 709.38h27.00v4.90h-27.00zM663.56 708.68h2.4v1h-2.4zM663.56 713.98h2.4v1h-2.4zM670.12 708.68h2.4v1h-2.4zM681.87 708.68h2.4v1h-2.4zM681.87 713.98h2.4v1h-2.4zM701.75 709.03h2.50v1.35h1.15v2.90h-1.15v1.35h-2.50v-1.35h-1.15v-2.90h1.15zM712.00 709.38h52.00v4.90h-52.00zM713.36 708.68h2.4v1h-2.4zM720.92 708.68h2.4v1h-2.4zM720.92 713.98h2.4v1h-2.4zM728.53 708.68h2.4v1h-2.4zM739.89 708.68h2.4v1h-2.4zM747.48 708.68h2.4v1h-2.4zM747.48 713.98h2.4v1h-2.4zM752.23 708.68h2.4v1h-2.4zM752.23 713.98h2.4v1h-2.4zM759.75 708.68h2.4v1h-2.4zM759.75 713.98h2.4v1h-2.4zM773.75 709.03h2.50v1.35h1.15v2.90h-1.15v1.35h-2.50v-1.35h-1.15v-2.90h1.15zM781.00 709.38h66.00v4.90h-66.00zM787.84 708.68h2.4v1h-2.4zM795.13 708.68h2.4v1h-2.4zM800.47 708.68h2.4v1h-2.4zM800.47 713.98h2.4v1h-2.4zM805.82 708.68h2.4v1h-2.4zM805.82 713.98h2.4v1h-2.4zM809.41 708.68h2.4v1h-2.4zM813.20 708.68h2.4v1h-2.4zM818.07 708.68h2.4v1h-2.4zM818.07 713.98h2.4v1h-2.4zM825.74 708.68h2.4v1h-2.4zM833.54 708.68h2.4v1h-2.4zM833.54 713.98h2.4v1h-2.4zM841.00 708.68h2.4v1h-2.4zM841.00 713.98h2.4v1h-2.4zM857.75 709.03h2.50v1.35h1.15v2.90h-1.15v1.35h-2.50v-1.35h-1.15v-2.90h1.15zM864.75 709.03h2.50v1.35h1.15v2.90h-1.15v1.35h-2.50v-1.35h-1.15v-2.90h1.15zM871.25 709.03h2.50v1.35h1.15v2.90h-1.15v1.35h-2.50v-1.35h-1.15v-2.90h1.15zM877.75 709.03h2.50v1.35h1.15v2.90h-1.15v1.35h-2.50v-1.35h-1.15v-2.90h1.15zM884.25 709.03h2.50v1.35h1.15v2.90h-1.15v1.35h-2.50v-1.35h-1.15v-2.90h1.15zM889.25 709.03h2.50v1.35h1.15v2.90h-1.15v1.35h-2.50v-1.35h-1.15v-2.90h1.15zM907.75 709.03h2.50v1.35h1.15v2.90h-1.15v1.35h-2.50v-1.35h-1.15v-2.90h1.15z" fill="#000"/>
<path d="M72.80 38.25H478.10V221.40H72.80ZM140.35 221.40v-5.2M140.35 38.25v4.5M207.90 221.40v-5.2M207.90 38.25v4.5M275.45 221.40v-5.2M275.45 38.25v4.5M343.00 221.40v-5.2M343.00 38.25v4.5M410.55 221.40v-5.2M410.55 38.25v4.5M72.80 129.82h5M478.10 129.82h-5M605.40 38.25H1009.20V221.40H605.40ZM686.16 221.40v-5.2M686.16 38.25v4.5M766.92 221.40v-5.2M766.92 38.25v4.5M847.68 221.40v-5.2M847.68 38.25v4.5M928.44 221.40v-5.2M928.44 38.25v4.5M605.40 129.82h5M1009.20 129.82h-5M72.80 292.40H478.10V475.50H72.80ZM153.86 475.50v-5.2M153.86 292.40v4.5M234.92 475.50v-5.2M234.92 292.40v4.5M315.98 475.50v-5.2M315.98 292.40v4.5M397.04 475.50v-5.2M397.04 292.40v4.5M72.80 383.95h5M478.10 383.95h-5M605.40 292.40H1009.20V475.50H605.40ZM672.70 475.50v-5.2M672.70 292.40v4.5M740.00 475.50v-5.2M740.00 292.40v4.5M807.30 475.50v-5.2M807.30 292.40v4.5M874.60 475.50v-5.2M874.60 292.40v4.5M941.90 475.50v-5.2M941.90 292.40v4.5M605.40 383.95h5M1009.20 383.95h-5M72.80 548.00H478.10V729.70H72.80ZM123.46 729.70v-5.2M123.46 548.00v4.5M174.12 729.70v-5.2M174.12 548.00v4.5M224.79 729.70v-5.2M224.79 548.00v4.5M275.45 729.70v-5.2M275.45 548.00v4.5M326.11 729.70v-5.2M326.11 548.00v4.5M376.78 729.70v-5.2M376.78 548.00v4.5M427.44 729.70v-5.2M427.44 548.00v4.5M72.80 639.55h5M478.10 639.55h-5M605.40 548.00H1009.20V729.70H605.40ZM663.09 729.70v-5.2M663.09 548.00v4.5M720.77 729.70v-5.2M720.77 548.00v4.5M778.46 729.70v-5.2M778.46 548.00v4.5M836.14 729.70v-5.2M836.14 548.00v4.5M893.83 729.70v-5.2M893.83 548.00v4.5M951.51 729.70v-5.2M951.51 548.00v4.5M605.40 639.55h5M1009.20 639.55h-5" stroke="#000" stroke-width="1.4" fill="none"/>
<text class="tk" transform="translate(62.07 242.70) scale(0.930 1)">20</text>
<text class="tk" transform="translate(129.62 242.70) scale(0.930 1)">23</text>
<text class="tk" transform="translate(197.17 242.70) scale(0.930 1)">26</text>
<text class="tk" transform="translate(264.72 242.70) scale(0.930 1)">29</text>
<text class="tk" transform="translate(332.27 242.70) scale(0.930 1)">32</text>
<text class="tk" transform="translate(399.82 242.70) scale(0.930 1)">35</text>
<text class="tk" transform="translate(467.37 242.70) scale(0.930 1)">38</text>
<text class="tk" transform="translate(59.30 46.75) scale(0.930 1)">5</text>
<text class="tk" transform="translate(59.30 136.82) scale(0.930 1)">0</text>
<text class="tk" transform="translate(52.79 228.40) scale(0.930 1)">-5</text>
<text class="tt2" transform="translate(43.2 151.97) rotate(-90) scale(1.030 1)">TSV</text>
<text class="tk" transform="translate(594.67 242.70) scale(0.930 1)">27</text>
<text class="tk" transform="translate(675.43 242.70) scale(0.930 1)">29</text>
<text class="tk" transform="translate(756.19 242.70) scale(0.930 1)">31</text>
<text class="tk" transform="translate(836.95 242.70) scale(0.930 1)">33</text>
<text class="tk" transform="translate(917.71 242.70) scale(0.930 1)">35</text>
<text class="tk" transform="translate(998.47 242.70) scale(0.930 1)">37</text>
<text class="tk" transform="translate(591.90 46.75) scale(0.930 1)">5</text>
<text class="tk" transform="translate(591.90 136.82) scale(0.930 1)">0</text>
<text class="tk" transform="translate(585.39 228.40) scale(0.930 1)">-5</text>
<text class="tk" transform="translate(62.07 496.50) scale(0.930 1)">27</text>
<text class="tk" transform="translate(143.13 496.50) scale(0.930 1)">29</text>
<text class="tk" transform="translate(224.19 496.50) scale(0.930 1)">31</text>
<text class="tk" transform="translate(305.25 496.50) scale(0.930 1)">33</text>
<text class="tk" transform="translate(386.31 496.50) scale(0.930 1)">35</text>
<text class="tk" transform="translate(467.37 496.50) scale(0.930 1)">37</text>
<text class="tk" transform="translate(59.30 300.90) scale(0.930 1)">5</text>
<text class="tk" transform="translate(59.30 390.95) scale(0.930 1)">0</text>
<text class="tk" transform="translate(52.79 482.50) scale(0.930 1)">-5</text>
<text class="tt2" transform="translate(43.2 406.09) rotate(-90) scale(1.030 1)">TSV</text>
<text class="tk" transform="translate(594.67 496.50) scale(0.930 1)">25</text>
<text class="tk" transform="translate(661.97 496.50) scale(0.930 1)">27</text>
<text class="tk" transform="translate(729.27 496.50) scale(0.930 1)">29</text>
<text class="tk" transform="translate(796.57 496.50) scale(0.930 1)">31</text>
<text class="tk" transform="translate(863.87 496.50) scale(0.930 1)">33</text>
<text class="tk" transform="translate(931.17 496.50) scale(0.930 1)">35</text>
<text class="tk" transform="translate(998.47 496.50) scale(0.930 1)">37</text>
<text class="tk" transform="translate(591.90 300.90) scale(0.930 1)">5</text>
<text class="tk" transform="translate(591.90 390.95) scale(0.930 1)">0</text>
<text class="tk" transform="translate(585.39 482.50) scale(0.930 1)">-5</text>
<text class="tk" transform="translate(58.72 752.40) scale(0.930 1)">-<tspan dx="-1.5">11</tspan></text>
<text class="tk" transform="translate(113.35 752.40) scale(0.930 1)">-<tspan dx="-1.5">9</tspan></text>
<text class="tk" transform="translate(164.01 752.40) scale(0.930 1)">-<tspan dx="-1.5">7</tspan></text>
<text class="tk" transform="translate(214.67 752.40) scale(0.930 1)">-<tspan dx="-1.5">5</tspan></text>
<text class="tk" transform="translate(265.33 752.40) scale(0.930 1)">-<tspan dx="-1.5">3</tspan></text>
<text class="tk" transform="translate(316.00 752.40) scale(0.930 1)">-<tspan dx="-1.5">1</tspan></text>
<text class="tk" transform="translate(370.69 752.40) scale(0.930 1)">1</text>
<text class="tk" transform="translate(421.82 752.40) scale(0.930 1)">3</text>
<text class="tk" transform="translate(472.49 752.40) scale(0.930 1)">5</text>
<text class="tk" transform="translate(59.30 556.50) scale(0.930 1)">5</text>
<text class="tk" transform="translate(59.30 646.55) scale(0.930 1)">0</text>
<text class="tk" transform="translate(52.79 736.70) scale(0.930 1)">-5</text>
<text class="tt2" transform="translate(43.2 661.70) rotate(-90) scale(1.030 1)">TSV</text>
<text class="tk" transform="translate(591.32 752.40) scale(0.930 1)">-<tspan dx="-1.5">11</tspan></text>
<text class="tk" transform="translate(652.97 752.40) scale(0.930 1)">-<tspan dx="-1.5">9</tspan></text>
<text class="tk" transform="translate(710.66 752.40) scale(0.930 1)">-<tspan dx="-1.5">7</tspan></text>
<text class="tk" transform="translate(768.34 752.40) scale(0.930 1)">-<tspan dx="-1.5">5</tspan></text>
<text class="tk" transform="translate(826.03 752.40) scale(0.930 1)">-<tspan dx="-1.5">3</tspan></text>
<text class="tk" transform="translate(883.71 752.40) scale(0.930 1)">-<tspan dx="-1.5">1</tspan></text>
<text class="tk" transform="translate(945.43 752.40) scale(0.930 1)">1</text>
<text class="tk" transform="translate(1003.59 752.40) scale(0.930 1)">3</text>
<text class="tk" transform="translate(591.90 556.50) scale(0.930 1)">5</text>
<text class="tk" transform="translate(591.90 646.55) scale(0.930 1)">0</text>
<text class="tk" transform="translate(585.39 736.70) scale(0.930 1)">-5</text>
<text class="tt" transform="translate(226.12 24.75) scale(0.889 1)">mSKT(Fin)</text>
<text class="tt" transform="translate(758.75 24.60) scale(0.876 1)">mSKT(RA)</text>
<text class="tt" transform="translate(227.63 278.75) scale(0.883 1)">mSKT(UA)</text>
<text class="tt" transform="translate(756.03 278.90) scale(0.884 1)">mSKT(UW)</text>
<text class="tt" transform="translate(213.73 534.20) scale(0.873 1)">gSKT(Fin-RA)</text>
<text class="tt" transform="translate(744.53 534.20) scale(0.872 1)">gSKT(Fin-UA)</text>
<text class="tt" transform="translate(215.81 779.40) scale(0.887 1)">TEMP(degC)</text>
<text class="tt" transform="translate(748.10 779.20) scale(0.895 1)">TEMP(degC)</text>
<text class="pl" transform="translate(6.64 43.50) scale(0.928 1)">(a)</text>
<text class="pl" transform="translate(541.41 45.10) scale(0.897 1)">(b)</text>
<text class="pl" transform="translate(6.64 292.90) scale(0.928 1)">(c)</text>
<text class="pl" transform="translate(541.41 294.50) scale(0.897 1)">(d)</text>
<text class="pl" transform="translate(6.64 551.70) scale(0.928 1)">(e)</text>
<text class="pl" transform="translate(541.41 552.90) scale(0.897 1)">(f)</text>
</svg>
</body></html>
